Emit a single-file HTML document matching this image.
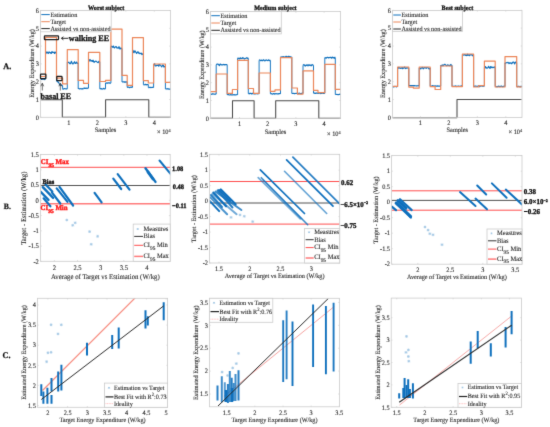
<!DOCTYPE html><html><head><meta charset="utf-8"><style>html,body{margin:0;padding:0;background:#fff;overflow:hidden}svg{display:block;will-change:transform}</style></head><body>
<svg width="550" height="427" viewBox="0 0 550 427" font-family="'Liberation Serif', serif" text-rendering="geometricPrecision">
<filter id="bl" x="0" y="0" width="550" height="427" filterUnits="userSpaceOnUse"><feConvolveMatrix color-interpolation-filters="sRGB" order="3" kernelMatrix="1 8 1 8 64 8 1 8 1" divisor="100" edgeMode="duplicate"/></filter><g filter="url(#bl)">
<rect width="550" height="427" fill="#fff"/>
<polyline points="40.5,99.8 62.3,99.8 62.3,117.3 105.6,117.3 105.6,99.8 148.8,99.8 148.8,117.3 170.5,117.3" fill="none" stroke="#484848" stroke-width="1.05" stroke-linejoin="round" />
<line x1="45.5" y1="79.3" x2="45.5" y2="52.5" stroke="#0f70bd" stroke-width="0.96" stroke-opacity="0.99"/>
<line x1="56.5" y1="52.5" x2="56.5" y2="81" stroke="#0f70bd" stroke-width="0.96" stroke-opacity="0.99"/>
<line x1="59" y1="82.5" x2="59" y2="84" stroke="#0f70bd" stroke-width="0.96" stroke-opacity="0.99"/>
<line x1="62.6" y1="86" x2="62.6" y2="88.8" stroke="#0f70bd" stroke-width="0.96" stroke-opacity="0.99"/>
<line x1="67.3" y1="88.8" x2="67.3" y2="62.2" stroke="#0f70bd" stroke-width="0.96" stroke-opacity="0.99"/>
<line x1="78.2" y1="63" x2="78.2" y2="88.8" stroke="#0f70bd" stroke-width="0.96" stroke-opacity="0.99"/>
<line x1="83.5" y1="88.8" x2="83.5" y2="88.2" stroke="#0f70bd" stroke-width="0.96" stroke-opacity="0.99"/>
<line x1="88.5" y1="88.2" x2="88.5" y2="60.5" stroke="#0f70bd" stroke-width="0.96" stroke-opacity="0.99"/>
<line x1="99.8" y1="62" x2="99.8" y2="88.8" stroke="#0f70bd" stroke-width="0.96" stroke-opacity="0.99"/>
<line x1="105.5" y1="88.8" x2="105.5" y2="83" stroke="#0f70bd" stroke-width="0.96" stroke-opacity="0.99"/>
<line x1="110.9" y1="83" x2="110.9" y2="46.5" stroke="#0f70bd" stroke-width="0.96" stroke-opacity="0.99"/>
<line x1="122" y1="48.6" x2="122" y2="82" stroke="#0f70bd" stroke-width="0.96" stroke-opacity="0.99"/>
<line x1="127.2" y1="82" x2="127.2" y2="87.3" stroke="#0f70bd" stroke-width="0.96" stroke-opacity="0.99"/>
<line x1="132.5" y1="87.3" x2="132.5" y2="51" stroke="#0f70bd" stroke-width="0.96" stroke-opacity="0.99"/>
<line x1="143.4" y1="54.5" x2="143.4" y2="84.5" stroke="#0f70bd" stroke-width="0.96" stroke-opacity="0.99"/>
<line x1="148.3" y1="84.5" x2="148.3" y2="87.5" stroke="#0f70bd" stroke-width="0.96" stroke-opacity="0.99"/>
<line x1="153.6" y1="87.5" x2="153.6" y2="64.6" stroke="#0f70bd" stroke-width="0.96" stroke-opacity="0.99"/>
<line x1="165.4" y1="66.2" x2="165.4" y2="88.9" stroke="#0f70bd" stroke-width="0.96" stroke-opacity="0.99"/>
<polyline points="40.5,79.3 41,79.31 41.5,79.45 42,79.21 42.5,79.2 43,79.25 43.5,79.14 44,79.22 44.5,79.56 45,79.11 45.5,79.3" fill="none" stroke="#0f70bd" stroke-width="1.2" stroke-linejoin="round" />
<polyline points="45.5,52.5 46,52.21 46.5,53 47,51.88 47.5,53.01 48,52.92 48.5,53.28 49,51.88 49.5,52.23 50,52.69 50.5,52.62 51,53.49 51.5,53.23 52,51.54 52.5,52.39 53,52.31 53.5,52.39 54,52.23 54.5,53.44 55,52.12 55.5,52.32 56,53 56.5,52.5" fill="none" stroke="#0f70bd" stroke-width="1.2" stroke-linejoin="round" />
<polyline points="56.5,81 57,81.25 57.5,81.71 58,81.91 58.5,82.5 59,82.5" fill="none" stroke="#0f70bd" stroke-width="1.2" stroke-linejoin="round" />
<polyline points="59,84 59.51,84.25 60.03,84.92 60.54,85.18 61.06,84.93 61.57,85.1 62.09,85.46 62.6,86" fill="none" stroke="#0f70bd" stroke-width="1.2" stroke-linejoin="round" />
<polyline points="62.6,88.8 63.12,89.19 63.64,88.83 64.17,88.76 64.69,88.55 65.21,88.76 65.73,88.86 66.26,88.87 66.78,88.86 67.3,88.8" fill="none" stroke="#0f70bd" stroke-width="1.2" stroke-linejoin="round" />
<polyline points="67.3,62.2 67.82,62.29 68.34,62.45 68.86,62.24 69.38,63.32 69.9,63.62 70.41,63.66 70.93,62.5 71.45,61.31 71.97,62.94 72.49,63.78 73.01,63.93 73.53,62.95 74.05,62.66 74.57,61.66 75.09,63.3 75.6,63.43 76.12,62.97 76.64,62.08 77.16,63.04 77.68,63.39 78.2,63" fill="none" stroke="#0f70bd" stroke-width="1.2" stroke-linejoin="round" />
<polyline points="78.2,88.8 78.73,88.45 79.26,88.92 79.79,88.88 80.32,88.77 80.85,88.7 81.38,88.79 81.91,88.85 82.44,88.6 82.97,89.01 83.5,88.8" fill="none" stroke="#0f70bd" stroke-width="1.2" stroke-linejoin="round" />
<polyline points="83.5,88.2 84,88.04 84.5,88.46 85,88.19 85.5,88.3 86,88.28 86.5,88.15 87,88.55 87.5,88.26 88,88.02 88.5,88.2" fill="none" stroke="#0f70bd" stroke-width="1.2" stroke-linejoin="round" />
<polyline points="88.5,60.5 89.01,61.24 89.53,59.73 90.04,59.61 90.55,60.17 91.07,61.19 91.58,60.85 92.1,60.52 92.61,61.48 93.12,60.19 93.64,61.72 94.15,62.29 94.66,61.68 95.18,61.53 95.69,61.1 96.2,61.22 96.72,61.64 97.23,62.22 97.75,62.48 98.26,62.63 98.77,61.37 99.29,61.31 99.8,62" fill="none" stroke="#0f70bd" stroke-width="1.2" stroke-linejoin="round" />
<polyline points="99.8,88.8 100.32,88.81 100.84,88.52 101.35,88.66 101.87,89.15 102.39,88.96 102.91,88.84 103.43,88.43 103.95,88.62 104.46,88.85 104.98,88.71 105.5,88.8" fill="none" stroke="#0f70bd" stroke-width="1.2" stroke-linejoin="round" />
<polyline points="105.5,83 106.04,82.95 106.58,83.12 107.12,82.94 107.66,83.15 108.2,82.91 108.74,82.93 109.28,82.86 109.82,83.2 110.36,83.27 110.9,83" fill="none" stroke="#0f70bd" stroke-width="1.2" stroke-linejoin="round" />
<polyline points="110.9,46.5 111.4,46.2 111.91,46.41 112.41,47.1 112.92,47.2 113.42,46.05 113.93,47.09 114.43,47.9 114.94,47.35 115.44,46.92 115.95,46.53 116.45,46.97 116.95,48.09 117.46,47.96 117.96,47.87 118.47,48.08 118.97,46.59 119.48,48.08 119.98,49.07 120.49,48.52 120.99,47.99 121.5,48.58 122,48.6" fill="none" stroke="#0f70bd" stroke-width="1.2" stroke-linejoin="round" />
<polyline points="122,82 122.52,81.95 123.04,81.76 123.56,81.81 124.08,82.05 124.6,81.91 125.12,82.06 125.64,81.95 126.16,82.04 126.68,81.83 127.2,82" fill="none" stroke="#0f70bd" stroke-width="1.2" stroke-linejoin="round" />
<polyline points="127.2,87.3 127.73,87.33 128.26,87.02 128.79,87.26 129.32,87.53 129.85,87.59 130.38,87.21 130.91,87.01 131.44,87.04 131.97,87.4 132.5,87.3" fill="none" stroke="#0f70bd" stroke-width="1.2" stroke-linejoin="round" />
<polyline points="132.5,51 133.02,50.47 133.54,52.34 134.06,52.66 134.58,51.13 135.1,50.93 135.61,52.06 136.13,52.47 136.65,53.43 137.17,52.66 137.69,51.85 138.21,51.88 138.73,53.16 139.25,52.98 139.77,53.64 140.29,53.65 140.8,53.21 141.32,53.09 141.84,54.55 142.36,53.93 142.88,54 143.4,54.5" fill="none" stroke="#0f70bd" stroke-width="1.2" stroke-linejoin="round" />
<polyline points="143.4,84.5 143.94,84.87 144.49,84.77 145.03,84.66 145.58,84.31 146.12,84.66 146.67,84.81 147.21,84.52 147.76,84.66 148.3,84.5" fill="none" stroke="#0f70bd" stroke-width="1.2" stroke-linejoin="round" />
<polyline points="148.3,87.5 148.83,87.66 149.36,87.44 149.89,87.38 150.42,87.43 150.95,87.57 151.48,87.47 152.01,87.24 152.54,87.39 153.07,87.31 153.6,87.5" fill="none" stroke="#0f70bd" stroke-width="1.2" stroke-linejoin="round" />
<polyline points="153.6,64.6 154.11,64.66 154.63,63.73 155.14,65.96 155.65,65.79 156.17,65.81 156.68,65.27 157.19,65.29 157.7,65.3 158.22,64.86 158.73,66.21 159.24,64.68 159.76,64.51 160.27,65.39 160.78,65.8 161.3,66.06 161.81,66.85 162.32,65.72 162.83,64.98 163.35,65.21 163.86,67 164.37,66.6 164.89,66.82 165.4,66.2" fill="none" stroke="#0f70bd" stroke-width="1.2" stroke-linejoin="round" />
<polyline points="165.4,88.9 165.91,88.87 166.42,88.91 166.93,89.01 167.44,88.99 167.95,88.58 168.46,88.97 168.97,89.2 169.48,89.21 169.99,89.11 170.5,88.9" fill="none" stroke="#0f70bd" stroke-width="1.2" stroke-linejoin="round" />
<polyline points="40.5,76.5 45.5,76.5 45.5,37.3 56.5,37.3 56.5,78.2 62.6,78.2 62.6,83.9 67.3,83.9 67.3,49.6 78.2,49.6 78.2,80.4 83.5,80.4 83.5,83.3 88.5,83.3 88.5,52.4 99.8,52.4 99.8,81.5 105.5,81.5 105.5,80.3 110.9,80.3 110.9,29.1 122,29.1 122,75.4 127.2,75.4 127.2,85.4 132.5,85.4 132.5,37.6 143.4,37.6 143.4,80.6 148.3,80.6 148.3,83 153.6,83 153.6,64 165.4,64 165.4,82.4 170.5,82.4" fill="none" stroke="#EC8659" stroke-width="1.2" stroke-linejoin="round" />
<rect x="40.5" y="10.5" width="130" height="106.8" fill="none" stroke="#cbcbcb" stroke-width="0.8"/>
<line x1="68.95" y1="117.3" x2="68.95" y2="116" stroke="#cbcbcb" stroke-width="0.6" />
<line x1="68.95" y1="10.5" x2="68.95" y2="11.8" stroke="#cbcbcb" stroke-width="0.6" />
<text transform="translate(68.95,124.77) scale(0.9434,1)" font-size="6.68" text-anchor="middle" font-weight="normal" fill="#262626" stroke="#262626" stroke-width="0.1">1</text>
<line x1="97.4" y1="117.3" x2="97.4" y2="116" stroke="#cbcbcb" stroke-width="0.6" />
<line x1="97.4" y1="10.5" x2="97.4" y2="11.8" stroke="#cbcbcb" stroke-width="0.6" />
<text transform="translate(97.4,124.77) scale(0.9434,1)" font-size="6.68" text-anchor="middle" font-weight="normal" fill="#262626" stroke="#262626" stroke-width="0.1">2</text>
<line x1="125.85" y1="117.3" x2="125.85" y2="116" stroke="#cbcbcb" stroke-width="0.6" />
<line x1="125.85" y1="10.5" x2="125.85" y2="11.8" stroke="#cbcbcb" stroke-width="0.6" />
<text transform="translate(125.85,124.77) scale(0.9434,1)" font-size="6.68" text-anchor="middle" font-weight="normal" fill="#262626" stroke="#262626" stroke-width="0.1">3</text>
<line x1="154.3" y1="117.3" x2="154.3" y2="116" stroke="#cbcbcb" stroke-width="0.6" />
<line x1="154.3" y1="10.5" x2="154.3" y2="11.8" stroke="#cbcbcb" stroke-width="0.6" />
<text transform="translate(154.3,124.77) scale(0.9434,1)" font-size="6.68" text-anchor="middle" font-weight="normal" fill="#262626" stroke="#262626" stroke-width="0.1">4</text>
<line x1="40.5" y1="117.3" x2="41.8" y2="117.3" stroke="#cbcbcb" stroke-width="0.6" />
<line x1="170.5" y1="117.3" x2="169.2" y2="117.3" stroke="#cbcbcb" stroke-width="0.6" />
<text transform="translate(38.9,119.57) scale(0.9434,1)" font-size="6.68" text-anchor="end" font-weight="normal" fill="#262626" stroke="#262626" stroke-width="0.1">0</text>
<line x1="40.5" y1="99.5" x2="41.8" y2="99.5" stroke="#cbcbcb" stroke-width="0.6" />
<line x1="170.5" y1="99.5" x2="169.2" y2="99.5" stroke="#cbcbcb" stroke-width="0.6" />
<text transform="translate(38.9,101.77) scale(0.9434,1)" font-size="6.68" text-anchor="end" font-weight="normal" fill="#262626" stroke="#262626" stroke-width="0.1">1</text>
<line x1="40.5" y1="81.7" x2="41.8" y2="81.7" stroke="#cbcbcb" stroke-width="0.6" />
<line x1="170.5" y1="81.7" x2="169.2" y2="81.7" stroke="#cbcbcb" stroke-width="0.6" />
<text transform="translate(38.9,83.97) scale(0.9434,1)" font-size="6.68" text-anchor="end" font-weight="normal" fill="#262626" stroke="#262626" stroke-width="0.1">2</text>
<line x1="40.5" y1="63.9" x2="41.8" y2="63.9" stroke="#cbcbcb" stroke-width="0.6" />
<line x1="170.5" y1="63.9" x2="169.2" y2="63.9" stroke="#cbcbcb" stroke-width="0.6" />
<text transform="translate(38.9,66.17) scale(0.9434,1)" font-size="6.68" text-anchor="end" font-weight="normal" fill="#262626" stroke="#262626" stroke-width="0.1">3</text>
<line x1="40.5" y1="46.1" x2="41.8" y2="46.1" stroke="#cbcbcb" stroke-width="0.6" />
<line x1="170.5" y1="46.1" x2="169.2" y2="46.1" stroke="#cbcbcb" stroke-width="0.6" />
<text transform="translate(38.9,48.37) scale(0.9434,1)" font-size="6.68" text-anchor="end" font-weight="normal" fill="#262626" stroke="#262626" stroke-width="0.1">4</text>
<line x1="40.5" y1="28.3" x2="41.8" y2="28.3" stroke="#cbcbcb" stroke-width="0.6" />
<line x1="170.5" y1="28.3" x2="169.2" y2="28.3" stroke="#cbcbcb" stroke-width="0.6" />
<text transform="translate(38.9,30.57) scale(0.9434,1)" font-size="6.68" text-anchor="end" font-weight="normal" fill="#262626" stroke="#262626" stroke-width="0.1">5</text>
<line x1="40.5" y1="10.5" x2="41.8" y2="10.5" stroke="#cbcbcb" stroke-width="0.6" />
<line x1="170.5" y1="10.5" x2="169.2" y2="10.5" stroke="#cbcbcb" stroke-width="0.6" />
<text transform="translate(38.9,12.77) scale(0.9434,1)" font-size="6.68" text-anchor="end" font-weight="normal" fill="#262626" stroke="#262626" stroke-width="0.1">6</text>
<text transform="translate(106.2,9.52) scale(0.9434,1)" font-size="6.52" text-anchor="middle" font-weight="bold" fill="#111" stroke="#111" stroke-width="0.3">Worst subject</text>
<text transform="translate(105.5,131.9) scale(0.9434,1)" font-size="6.68" text-anchor="middle" font-weight="normal" fill="#262626" stroke="#262626" stroke-width="0.1">Samples</text>
<text transform="translate(157.1,134.3) scale(0.9434,1)" font-size="6.68" text-anchor="start" font-weight="normal" fill="#262626" stroke="#262626" stroke-width="0.1">× 10<tspan font-size="4.5" dy="-2.6">4</tspan></text>
<text transform="translate(33.96,63.5) rotate(-90) scale(0.9434,1)" font-size="6.54" text-anchor="middle" fill="#262626" stroke="#262626" stroke-width="0.1">Energy Expenditure (W/kg)</text>
<rect x="40.5" y="10.5" width="70.7" height="21.3" fill="#fff" stroke="#cbcbcb" stroke-width="0.8"/>
<line x1="41.3" y1="14.6" x2="49.8" y2="14.6" stroke="#0f70bd" stroke-width="1.0" />
<text transform="translate(50.4,16.57) scale(0.9434,1)" font-size="6.57" text-anchor="start" font-weight="normal" fill="#262626" stroke="#262626" stroke-width="0.1">Estimation</text>
<line x1="41.3" y1="21.7" x2="49.8" y2="21.7" stroke="#EC8659" stroke-width="1.0" />
<text transform="translate(50.4,23.67) scale(0.9434,1)" font-size="6.57" text-anchor="start" font-weight="normal" fill="#262626" stroke="#262626" stroke-width="0.1">Target</text>
<line x1="41.3" y1="28.6" x2="49.8" y2="28.6" stroke="#262626" stroke-width="1.0" />
<text transform="translate(50.4,30.57) scale(0.9434,1)" font-size="6.57" text-anchor="start" font-weight="normal" fill="#262626" stroke="#262626" stroke-width="0.1">Assisted vs non-assisted</text>
<polyline points="210.5,118.3 232.5,118.3 232.5,100.8 254.1,100.8 254.1,118.3 275.7,118.3 275.7,100.8 318.8,100.8 318.8,118.3 340.5,118.3" fill="none" stroke="#484848" stroke-width="1.05" stroke-linejoin="round" />
<line x1="216.2" y1="94.1" x2="216.2" y2="64.8" stroke="#0f70bd" stroke-width="0.96" stroke-opacity="0.99"/>
<line x1="227.2" y1="64.8" x2="227.2" y2="94.8" stroke="#0f70bd" stroke-width="0.96" stroke-opacity="0.99"/>
<line x1="237.6" y1="94.8" x2="237.6" y2="58.2" stroke="#0f70bd" stroke-width="0.96" stroke-opacity="0.99"/>
<line x1="248.3" y1="58.2" x2="248.3" y2="93.6" stroke="#0f70bd" stroke-width="0.96" stroke-opacity="0.99"/>
<line x1="259.1" y1="93.6" x2="259.1" y2="60.4" stroke="#0f70bd" stroke-width="0.96" stroke-opacity="0.99"/>
<line x1="270.4" y1="60.4" x2="270.4" y2="93.8" stroke="#0f70bd" stroke-width="0.96" stroke-opacity="0.99"/>
<line x1="280.5" y1="93.8" x2="280.5" y2="56.9" stroke="#0f70bd" stroke-width="0.96" stroke-opacity="0.99"/>
<line x1="291.8" y1="56.9" x2="291.8" y2="93.4" stroke="#0f70bd" stroke-width="0.96" stroke-opacity="0.99"/>
<line x1="303" y1="93.4" x2="303" y2="65.3" stroke="#0f70bd" stroke-width="0.96" stroke-opacity="0.99"/>
<line x1="313.5" y1="65.3" x2="313.5" y2="93.2" stroke="#0f70bd" stroke-width="0.96" stroke-opacity="0.99"/>
<line x1="324.8" y1="93.2" x2="324.8" y2="57.6" stroke="#0f70bd" stroke-width="0.96" stroke-opacity="0.99"/>
<line x1="335.3" y1="57.6" x2="335.3" y2="94.5" stroke="#0f70bd" stroke-width="0.96" stroke-opacity="0.99"/>
<polyline points="210.5,94.1 211.02,94 211.54,94.29 212.05,94.25 212.57,93.73 213.09,93.88 213.61,94.04 214.13,94.27 214.65,94.15 215.16,94.01 215.68,94.08 216.2,94.1" fill="none" stroke="#0f70bd" stroke-width="1.2" stroke-linejoin="round" />
<polyline points="216.2,64.8 216.7,64.39 217.2,64.1 217.7,64.08 218.2,64.34 218.7,64.61 219.2,65.6 219.7,65.18 220.2,64.07 220.7,64.52 221.2,64.65 221.7,64.92 222.2,64.89 222.7,64.86 223.2,64.56 223.7,64.45 224.2,64.62 224.7,64.96 225.2,64.56 225.7,64.67 226.2,64.69 226.7,64.56 227.2,64.8" fill="none" stroke="#0f70bd" stroke-width="1.2" stroke-linejoin="round" />
<polyline points="227.2,94.8 227.72,94.44 228.24,94.54 228.76,94.8 229.28,95.01 229.8,95.02 230.32,94.66 230.84,94.79 231.36,94.8 231.88,94.87 232.4,94.89 232.92,94.83 233.44,94.78 233.96,94.62 234.48,94.89 235,94.92 235.52,94.81 236.04,94.8 236.56,94.75 237.08,94.47 237.6,94.8" fill="none" stroke="#0f70bd" stroke-width="1.2" stroke-linejoin="round" />
<polyline points="237.6,58.2 238.11,58.09 238.62,58.41 239.13,58.89 239.64,58.63 240.15,57.76 240.66,58.36 241.17,58.58 241.68,58.28 242.19,58.38 242.7,57.68 243.2,58.19 243.71,58.19 244.22,58.78 244.73,58.84 245.24,58.5 245.75,58.23 246.26,57.94 246.77,57.71 247.28,58.55 247.79,57.99 248.3,58.2" fill="none" stroke="#0f70bd" stroke-width="1.2" stroke-linejoin="round" />
<polyline points="248.3,93.6 248.81,93.58 249.33,93.8 249.84,93.28 250.36,93.25 250.87,93.36 251.39,93.9 251.9,93.59 252.41,93.38 252.93,93.64 253.44,93.28 253.96,93.78 254.47,93.83 254.99,93.89 255.5,93.79 256.01,93.49 256.53,93.64 257.04,93.43 257.56,93.89 258.07,93.69 258.59,93.63 259.1,93.6" fill="none" stroke="#0f70bd" stroke-width="1.2" stroke-linejoin="round" />
<polyline points="259.1,60.4 259.61,59.93 260.13,60.34 260.64,60.62 261.15,60.05 261.67,60.55 262.18,60.66 262.7,60.59 263.21,59.79 263.72,59.92 264.24,60.34 264.75,60.85 265.26,60.76 265.78,60.04 266.29,59.94 266.8,60.25 267.32,60.52 267.83,60.61 268.35,59.95 268.86,60.1 269.37,60.63 269.89,60.37 270.4,60.4" fill="none" stroke="#0f70bd" stroke-width="1.2" stroke-linejoin="round" />
<polyline points="270.4,93.8 270.9,93.77 271.41,93.61 271.91,94.02 272.42,94.07 272.92,93.89 273.43,93.67 273.94,93.66 274.44,93.89 274.94,94.14 275.45,93.74 275.95,93.55 276.46,93.77 276.96,93.91 277.47,93.88 277.98,93.93 278.48,93.98 278.99,93.55 279.49,93.53 280,93.6 280.5,93.8" fill="none" stroke="#0f70bd" stroke-width="1.2" stroke-linejoin="round" />
<polyline points="280.5,56.9 281.01,57.13 281.53,57.04 282.04,56.78 282.55,56.91 283.07,57.04 283.58,56.57 284.1,57.35 284.61,57.13 285.12,57.34 285.64,56.72 286.15,56.35 286.66,56.59 287.18,56.69 287.69,57.16 288.2,56.73 288.72,56.24 289.23,56.51 289.75,56.81 290.26,57.52 290.77,56.73 291.29,57.27 291.8,56.9" fill="none" stroke="#0f70bd" stroke-width="1.2" stroke-linejoin="round" />
<polyline points="291.8,93.4 292.31,93.52 292.82,93.43 293.33,93.24 293.84,93.45 294.35,93.6 294.85,93.58 295.36,93.49 295.87,93.45 296.38,93.42 296.89,93.27 297.4,93.6 297.91,93.78 298.42,93.44 298.93,93.16 299.44,93.12 299.95,93.47 300.45,93.61 300.96,93.77 301.47,93.58 301.98,93.14 302.49,93.12 303,93.4" fill="none" stroke="#0f70bd" stroke-width="1.2" stroke-linejoin="round" />
<polyline points="303,65.3 303.5,64.83 304,64.64 304.5,65.43 305,65.93 305.5,66.03 306,65.07 306.5,65.4 307,64.81 307.5,65.24 308,65.85 308.5,65.12 309,64.8 309.5,65.32 310,64.86 310.5,65.28 311,65.72 311.5,65.66 312,64.61 312.5,64.79 313,65.1 313.5,65.3" fill="none" stroke="#0f70bd" stroke-width="1.2" stroke-linejoin="round" />
<polyline points="313.5,93.2 314.01,93.09 314.53,93.11 315.04,93.4 315.55,93.51 316.07,93.07 316.58,93.06 317.1,92.95 317.61,93.19 318.12,93.44 318.64,93.05 319.15,93.27 319.66,93.25 320.18,92.98 320.69,93.55 321.2,93.28 321.72,93.33 322.23,93.18 322.75,92.98 323.26,93.32 323.77,93.43 324.29,93.46 324.8,93.2" fill="none" stroke="#0f70bd" stroke-width="1.2" stroke-linejoin="round" />
<polyline points="324.8,57.6 325.3,57.63 325.8,58.17 326.3,58.08 326.8,57.48 327.3,57.37 327.8,57.25 328.3,57.92 328.8,57.68 329.3,57.72 329.8,57.45 330.3,57.47 330.8,57.42 331.3,58.09 331.8,57.89 332.3,57.06 332.8,57.68 333.3,57.66 333.8,57.45 334.3,58.37 334.8,57.27 335.3,57.6" fill="none" stroke="#0f70bd" stroke-width="1.2" stroke-linejoin="round" />
<polyline points="335.3,94.5 335.82,94.49 336.34,94.52 336.86,94.39 337.38,94.48 337.9,94.68 338.42,94.63 338.94,94.44 339.46,94.22 339.98,94.15 340.5,94.5" fill="none" stroke="#0f70bd" stroke-width="1.2" stroke-linejoin="round" />
<polyline points="210.5,91.7 216.2,91.7 216.2,74 227.2,74 227.2,93.4 232.4,93.4 232.4,89.5 237.6,89.5 237.6,60.4 248.3,60.4 248.3,88.5 253.5,88.5 253.5,93.4 259.1,93.4 259.1,73 270.4,73 270.4,91.3 275,91.3 275,89.9 280.5,89.9 280.5,57.6 291.8,57.6 291.8,88 297.4,88 297.4,94.1 303,94.1 303,70.9 313.5,70.9 313.5,90.3 318,90.3 318,92.7 324.8,92.7 324.8,64.3 335.3,64.3 335.3,89.4 340.5,89.4" fill="none" stroke="#EC8659" stroke-width="1.2" stroke-linejoin="round" />
<rect x="210.5" y="11.5" width="130" height="106.8" fill="none" stroke="#cbcbcb" stroke-width="0.8"/>
<line x1="239.5" y1="118.3" x2="239.5" y2="117" stroke="#cbcbcb" stroke-width="0.6" />
<line x1="239.5" y1="11.5" x2="239.5" y2="12.8" stroke="#cbcbcb" stroke-width="0.6" />
<text transform="translate(239.5,126.07) scale(0.9434,1)" font-size="6.68" text-anchor="middle" font-weight="normal" fill="#262626" stroke="#262626" stroke-width="0.1">1</text>
<line x1="267.7" y1="118.3" x2="267.7" y2="117" stroke="#cbcbcb" stroke-width="0.6" />
<line x1="267.7" y1="11.5" x2="267.7" y2="12.8" stroke="#cbcbcb" stroke-width="0.6" />
<text transform="translate(267.7,126.07) scale(0.9434,1)" font-size="6.68" text-anchor="middle" font-weight="normal" fill="#262626" stroke="#262626" stroke-width="0.1">2</text>
<line x1="295.9" y1="118.3" x2="295.9" y2="117" stroke="#cbcbcb" stroke-width="0.6" />
<line x1="295.9" y1="11.5" x2="295.9" y2="12.8" stroke="#cbcbcb" stroke-width="0.6" />
<text transform="translate(295.9,126.07) scale(0.9434,1)" font-size="6.68" text-anchor="middle" font-weight="normal" fill="#262626" stroke="#262626" stroke-width="0.1">3</text>
<line x1="324.1" y1="118.3" x2="324.1" y2="117" stroke="#cbcbcb" stroke-width="0.6" />
<line x1="324.1" y1="11.5" x2="324.1" y2="12.8" stroke="#cbcbcb" stroke-width="0.6" />
<text transform="translate(324.1,126.07) scale(0.9434,1)" font-size="6.68" text-anchor="middle" font-weight="normal" fill="#262626" stroke="#262626" stroke-width="0.1">4</text>
<line x1="210.5" y1="118.3" x2="211.8" y2="118.3" stroke="#cbcbcb" stroke-width="0.6" />
<line x1="340.5" y1="118.3" x2="339.2" y2="118.3" stroke="#cbcbcb" stroke-width="0.6" />
<text transform="translate(208.9,120.57) scale(0.9434,1)" font-size="6.68" text-anchor="end" font-weight="normal" fill="#262626" stroke="#262626" stroke-width="0.1">0</text>
<line x1="210.5" y1="100.5" x2="211.8" y2="100.5" stroke="#cbcbcb" stroke-width="0.6" />
<line x1="340.5" y1="100.5" x2="339.2" y2="100.5" stroke="#cbcbcb" stroke-width="0.6" />
<text transform="translate(208.9,102.77) scale(0.9434,1)" font-size="6.68" text-anchor="end" font-weight="normal" fill="#262626" stroke="#262626" stroke-width="0.1">1</text>
<line x1="210.5" y1="82.7" x2="211.8" y2="82.7" stroke="#cbcbcb" stroke-width="0.6" />
<line x1="340.5" y1="82.7" x2="339.2" y2="82.7" stroke="#cbcbcb" stroke-width="0.6" />
<text transform="translate(208.9,84.97) scale(0.9434,1)" font-size="6.68" text-anchor="end" font-weight="normal" fill="#262626" stroke="#262626" stroke-width="0.1">2</text>
<line x1="210.5" y1="64.9" x2="211.8" y2="64.9" stroke="#cbcbcb" stroke-width="0.6" />
<line x1="340.5" y1="64.9" x2="339.2" y2="64.9" stroke="#cbcbcb" stroke-width="0.6" />
<text transform="translate(208.9,67.17) scale(0.9434,1)" font-size="6.68" text-anchor="end" font-weight="normal" fill="#262626" stroke="#262626" stroke-width="0.1">3</text>
<line x1="210.5" y1="47.1" x2="211.8" y2="47.1" stroke="#cbcbcb" stroke-width="0.6" />
<line x1="340.5" y1="47.1" x2="339.2" y2="47.1" stroke="#cbcbcb" stroke-width="0.6" />
<text transform="translate(208.9,49.37) scale(0.9434,1)" font-size="6.68" text-anchor="end" font-weight="normal" fill="#262626" stroke="#262626" stroke-width="0.1">4</text>
<line x1="210.5" y1="29.3" x2="211.8" y2="29.3" stroke="#cbcbcb" stroke-width="0.6" />
<line x1="340.5" y1="29.3" x2="339.2" y2="29.3" stroke="#cbcbcb" stroke-width="0.6" />
<text transform="translate(208.9,31.57) scale(0.9434,1)" font-size="6.68" text-anchor="end" font-weight="normal" fill="#262626" stroke="#262626" stroke-width="0.1">5</text>
<line x1="210.5" y1="11.5" x2="211.8" y2="11.5" stroke="#cbcbcb" stroke-width="0.6" />
<line x1="340.5" y1="11.5" x2="339.2" y2="11.5" stroke="#cbcbcb" stroke-width="0.6" />
<text transform="translate(208.9,13.77) scale(0.9434,1)" font-size="6.68" text-anchor="end" font-weight="normal" fill="#262626" stroke="#262626" stroke-width="0.1">6</text>
<text transform="translate(275.4,9.52) scale(0.9434,1)" font-size="6.52" text-anchor="middle" font-weight="bold" fill="#111" stroke="#111" stroke-width="0.3">Medium subject</text>
<text transform="translate(275.5,134) scale(0.9434,1)" font-size="6.68" text-anchor="middle" font-weight="normal" fill="#262626" stroke="#262626" stroke-width="0.1">Samples</text>
<text transform="translate(327.1,136.4) scale(0.9434,1)" font-size="6.68" text-anchor="start" font-weight="normal" fill="#262626" stroke="#262626" stroke-width="0.1">× 10<tspan font-size="4.5" dy="-2.6">4</tspan></text>
<text transform="translate(203.56,64.7) rotate(-90) scale(0.9434,1)" font-size="6.54" text-anchor="middle" fill="#262626" stroke="#262626" stroke-width="0.1">Energy Expenditure (W/kg)</text>
<rect x="210.5" y="11.5" width="70.8" height="22.4" fill="#fff" stroke="#cbcbcb" stroke-width="0.8"/>
<line x1="211.3" y1="15.7" x2="219.9" y2="15.7" stroke="#0f70bd" stroke-width="1.0" />
<text transform="translate(220.5,17.67) scale(0.9434,1)" font-size="6.57" text-anchor="start" font-weight="normal" fill="#262626" stroke="#262626" stroke-width="0.1">Estimation</text>
<line x1="211.3" y1="23" x2="219.9" y2="23" stroke="#EC8659" stroke-width="1.0" />
<text transform="translate(220.5,24.97) scale(0.9434,1)" font-size="6.57" text-anchor="start" font-weight="normal" fill="#262626" stroke="#262626" stroke-width="0.1">Target</text>
<line x1="211.3" y1="30.3" x2="219.9" y2="30.3" stroke="#262626" stroke-width="1.0" />
<text transform="translate(220.5,32.27) scale(0.9434,1)" font-size="6.57" text-anchor="start" font-weight="normal" fill="#262626" stroke="#262626" stroke-width="0.1">Assisted vs non-assisted</text>
<polyline points="392.5,117.6 457,117.6 457,99.5 522,99.5" fill="none" stroke="#484848" stroke-width="1.05" stroke-linejoin="round" />
<line x1="397.6" y1="86.6" x2="397.6" y2="68.1" stroke="#0f70bd" stroke-width="0.96" stroke-opacity="0.99"/>
<line x1="408.8" y1="68.1" x2="408.8" y2="85.7" stroke="#0f70bd" stroke-width="0.96" stroke-opacity="0.99"/>
<line x1="419.2" y1="85.7" x2="419.2" y2="68" stroke="#0f70bd" stroke-width="0.96" stroke-opacity="0.99"/>
<line x1="430.2" y1="68" x2="430.2" y2="86" stroke="#0f70bd" stroke-width="0.96" stroke-opacity="0.99"/>
<line x1="440.7" y1="86" x2="440.7" y2="65.3" stroke="#0f70bd" stroke-width="0.96" stroke-opacity="0.99"/>
<line x1="452" y1="65.3" x2="452" y2="86.3" stroke="#0f70bd" stroke-width="0.96" stroke-opacity="0.99"/>
<line x1="462.4" y1="86.3" x2="462.4" y2="55.2" stroke="#0f70bd" stroke-width="0.96" stroke-opacity="0.99"/>
<line x1="473.6" y1="55.2" x2="473.6" y2="86.2" stroke="#0f70bd" stroke-width="0.96" stroke-opacity="0.99"/>
<line x1="484.4" y1="86.2" x2="484.4" y2="67.4" stroke="#0f70bd" stroke-width="0.96" stroke-opacity="0.99"/>
<line x1="495.2" y1="67.4" x2="495.2" y2="86.4" stroke="#0f70bd" stroke-width="0.96" stroke-opacity="0.99"/>
<line x1="505" y1="86.4" x2="505" y2="62.8" stroke="#0f70bd" stroke-width="0.96" stroke-opacity="0.99"/>
<line x1="516.7" y1="62.8" x2="516.7" y2="86.6" stroke="#0f70bd" stroke-width="0.96" stroke-opacity="0.99"/>
<polyline points="392.5,86.6 393.01,86.85 393.52,86.85 394.03,86.6 394.54,86.57 395.05,86.42 395.56,86.53 396.07,86.7 396.58,86.87 397.09,86.3 397.6,86.6" fill="none" stroke="#0f70bd" stroke-width="1.2" stroke-linejoin="round" />
<polyline points="397.6,68.1 398.11,68.26 398.62,67.44 399.13,68.04 399.64,67.81 400.15,68.22 400.65,68.37 401.16,68.17 401.67,68.08 402.18,67.52 402.69,68.65 403.2,67.98 403.71,68.1 404.22,67.41 404.73,67.11 405.24,68.22 405.75,68.61 406.25,68.11 406.76,67.88 407.27,67.73 407.78,67.99 408.29,68.4 408.8,68.1" fill="none" stroke="#0f70bd" stroke-width="1.2" stroke-linejoin="round" />
<polyline points="408.8,85.7 409.32,85.67 409.84,85.65 410.36,85.59 410.88,85.81 411.4,85.63 411.92,85.63 412.44,85.58 412.96,85.5 413.48,85.68 414,85.99 414.52,85.5 415.04,85.73 415.56,85.75 416.08,85.91 416.6,85.78 417.12,85.86 417.64,85.72 418.16,85.62 418.68,85.82 419.2,85.7" fill="none" stroke="#0f70bd" stroke-width="1.2" stroke-linejoin="round" />
<polyline points="419.2,68 419.7,68.22 420.2,68.1 420.7,68.89 421.2,67.94 421.7,67.73 422.2,67.97 422.7,67.41 423.2,68.82 423.7,68.52 424.2,67.82 424.7,67.58 425.2,67.71 425.7,67.81 426.2,68.49 426.7,67.52 427.2,67.71 427.7,67.77 428.2,67.82 428.7,68.44 429.2,69.06 429.7,68.58 430.2,68" fill="none" stroke="#0f70bd" stroke-width="1.2" stroke-linejoin="round" />
<polyline points="430.2,86 430.7,85.98 431.2,86.21 431.7,85.96 432.2,85.63 432.7,85.89 433.2,85.99 433.7,85.94 434.2,86.04 434.7,86.08 435.2,85.78 435.7,86.19 436.2,86.24 436.7,85.94 437.2,86.14 437.7,85.9 438.2,86.1 438.7,86.16 439.2,86.27 439.7,86.01 440.2,86.07 440.7,86" fill="none" stroke="#0f70bd" stroke-width="1.2" stroke-linejoin="round" />
<polyline points="440.7,65.3 441.21,65.83 441.73,65.38 442.24,64.9 442.75,65.81 443.27,65.72 443.78,65.01 444.3,64.45 444.81,64.26 445.32,64.68 445.84,65.1 446.35,65.74 446.86,65.71 447.38,65.03 447.89,64.77 448.4,65.45 448.92,65.4 449.43,65.65 449.95,65.65 450.46,64.76 450.97,64.5 451.49,65.94 452,65.3" fill="none" stroke="#0f70bd" stroke-width="1.2" stroke-linejoin="round" />
<polyline points="452,86.3 452.52,86.26 453.04,86.21 453.56,86.36 454.08,86.46 454.6,86.35 455.12,86.02 455.64,85.93 456.16,86.18 456.68,86.59 457.2,86.24 457.72,86.23 458.24,86 458.76,86.06 459.28,86.21 459.8,86.41 460.32,86.21 460.84,85.98 461.36,85.95 461.88,86.09 462.4,86.3" fill="none" stroke="#0f70bd" stroke-width="1.2" stroke-linejoin="round" />
<polyline points="462.4,55.2 462.91,55.38 463.42,55.03 463.93,54.75 464.44,54.88 464.95,54.62 465.45,55.33 465.96,54.88 466.47,55.5 466.98,55.14 467.49,54.18 468,55.44 468.51,54.79 469.02,55.03 469.53,55.54 470.04,54.67 470.55,54.95 471.05,54.66 471.56,54.8 472.07,55.01 472.58,55.79 473.09,54.69 473.6,55.2" fill="none" stroke="#0f70bd" stroke-width="1.2" stroke-linejoin="round" />
<polyline points="473.6,86.2 474.11,86.47 474.63,86.17 475.14,86.27 475.66,85.98 476.17,86.12 476.69,86.24 477.2,86.45 477.71,86.2 478.23,85.97 478.74,85.92 479.26,86.37 479.77,86.59 480.29,86.3 480.8,85.85 481.31,85.82 481.83,85.97 482.34,86.16 482.86,86.12 483.37,85.99 483.89,86.14 484.4,86.2" fill="none" stroke="#0f70bd" stroke-width="1.2" stroke-linejoin="round" />
<polyline points="484.4,67.4 484.91,67.67 485.43,66.54 485.94,67.95 486.46,67.71 486.97,68.24 487.49,68.03 488,67.64 488.51,66.36 489.03,67.16 489.54,67.96 490.06,68.37 490.57,66.72 491.09,66.67 491.6,67.59 492.11,67.03 492.63,67.69 493.14,67.41 493.66,67.42 494.17,67.55 494.69,66.77 495.2,67.4" fill="none" stroke="#0f70bd" stroke-width="1.2" stroke-linejoin="round" />
<polyline points="495.2,86.4 495.72,86.41 496.23,86.57 496.75,86.72 497.26,86.51 497.78,86.53 498.29,86.18 498.81,86.29 499.33,86.36 499.84,86.69 500.36,86.43 500.87,86.17 501.39,86.09 501.91,86.49 502.42,86.58 502.94,86.64 503.45,86.34 503.97,86.25 504.48,86.11 505,86.4" fill="none" stroke="#0f70bd" stroke-width="1.2" stroke-linejoin="round" />
<polyline points="505,62.8 505.51,63.46 506.02,62.53 506.53,62.75 507.03,62.76 507.54,62.69 508.05,62.31 508.56,62.86 509.07,63.6 509.58,62.86 510.09,62.88 510.6,63.06 511.1,62.94 511.61,63.81 512.12,63.32 512.63,62.3 513.14,62.17 513.65,62.07 514.16,62.98 514.67,63.86 515.17,62.31 515.68,62.53 516.19,61.86 516.7,62.8" fill="none" stroke="#0f70bd" stroke-width="1.2" stroke-linejoin="round" />
<polyline points="516.7,86.6 517.23,86.47 517.76,86.58 518.29,86.32 518.82,86.33 519.35,86.54 519.88,86.82 520.41,86.67 520.94,86.23 521.47,86.33 522,86.6" fill="none" stroke="#0f70bd" stroke-width="1.2" stroke-linejoin="round" />
<polyline points="392.5,86.4 397.6,86.4 397.6,67 408.8,67 408.8,87.1 413.3,87.1 413.3,88.1 419.2,88.1 419.2,67 430.2,67 430.2,86.7 435.1,86.7 435.1,89.5 440.7,89.5 440.7,66 452,66 452,86.6 462.4,86.6 462.4,54 473.6,54 473.6,87 478.8,87 478.8,85.6 484.4,85.6 484.4,61.1 495.2,61.1 495.2,87 505,87 505,56.6 516.7,56.6 516.7,86.8 522,86.8" fill="none" stroke="#EC8659" stroke-width="1.2" stroke-linejoin="round" />
<rect x="392.5" y="10.4" width="129.5" height="107" fill="none" stroke="#cbcbcb" stroke-width="0.8"/>
<line x1="420.45" y1="117.4" x2="420.45" y2="116.1" stroke="#cbcbcb" stroke-width="0.6" />
<line x1="420.45" y1="10.4" x2="420.45" y2="11.7" stroke="#cbcbcb" stroke-width="0.6" />
<text transform="translate(420.45,124.97) scale(0.9434,1)" font-size="6.68" text-anchor="middle" font-weight="normal" fill="#262626" stroke="#262626" stroke-width="0.1">1</text>
<line x1="448.9" y1="117.4" x2="448.9" y2="116.1" stroke="#cbcbcb" stroke-width="0.6" />
<line x1="448.9" y1="10.4" x2="448.9" y2="11.7" stroke="#cbcbcb" stroke-width="0.6" />
<text transform="translate(448.9,124.97) scale(0.9434,1)" font-size="6.68" text-anchor="middle" font-weight="normal" fill="#262626" stroke="#262626" stroke-width="0.1">2</text>
<line x1="477.35" y1="117.4" x2="477.35" y2="116.1" stroke="#cbcbcb" stroke-width="0.6" />
<line x1="477.35" y1="10.4" x2="477.35" y2="11.7" stroke="#cbcbcb" stroke-width="0.6" />
<text transform="translate(477.35,124.97) scale(0.9434,1)" font-size="6.68" text-anchor="middle" font-weight="normal" fill="#262626" stroke="#262626" stroke-width="0.1">3</text>
<line x1="505.8" y1="117.4" x2="505.8" y2="116.1" stroke="#cbcbcb" stroke-width="0.6" />
<line x1="505.8" y1="10.4" x2="505.8" y2="11.7" stroke="#cbcbcb" stroke-width="0.6" />
<text transform="translate(505.8,124.97) scale(0.9434,1)" font-size="6.68" text-anchor="middle" font-weight="normal" fill="#262626" stroke="#262626" stroke-width="0.1">4</text>
<line x1="392.5" y1="117.4" x2="393.8" y2="117.4" stroke="#cbcbcb" stroke-width="0.6" />
<line x1="522" y1="117.4" x2="520.7" y2="117.4" stroke="#cbcbcb" stroke-width="0.6" />
<text transform="translate(390.9,119.67) scale(0.9434,1)" font-size="6.68" text-anchor="end" font-weight="normal" fill="#262626" stroke="#262626" stroke-width="0.1">0</text>
<line x1="392.5" y1="99.55" x2="393.8" y2="99.55" stroke="#cbcbcb" stroke-width="0.6" />
<line x1="522" y1="99.55" x2="520.7" y2="99.55" stroke="#cbcbcb" stroke-width="0.6" />
<text transform="translate(390.9,101.82) scale(0.9434,1)" font-size="6.68" text-anchor="end" font-weight="normal" fill="#262626" stroke="#262626" stroke-width="0.1">1</text>
<line x1="392.5" y1="81.7" x2="393.8" y2="81.7" stroke="#cbcbcb" stroke-width="0.6" />
<line x1="522" y1="81.7" x2="520.7" y2="81.7" stroke="#cbcbcb" stroke-width="0.6" />
<text transform="translate(390.9,83.97) scale(0.9434,1)" font-size="6.68" text-anchor="end" font-weight="normal" fill="#262626" stroke="#262626" stroke-width="0.1">2</text>
<line x1="392.5" y1="63.85" x2="393.8" y2="63.85" stroke="#cbcbcb" stroke-width="0.6" />
<line x1="522" y1="63.85" x2="520.7" y2="63.85" stroke="#cbcbcb" stroke-width="0.6" />
<text transform="translate(390.9,66.12) scale(0.9434,1)" font-size="6.68" text-anchor="end" font-weight="normal" fill="#262626" stroke="#262626" stroke-width="0.1">3</text>
<line x1="392.5" y1="46" x2="393.8" y2="46" stroke="#cbcbcb" stroke-width="0.6" />
<line x1="522" y1="46" x2="520.7" y2="46" stroke="#cbcbcb" stroke-width="0.6" />
<text transform="translate(390.9,48.27) scale(0.9434,1)" font-size="6.68" text-anchor="end" font-weight="normal" fill="#262626" stroke="#262626" stroke-width="0.1">4</text>
<line x1="392.5" y1="28.15" x2="393.8" y2="28.15" stroke="#cbcbcb" stroke-width="0.6" />
<line x1="522" y1="28.15" x2="520.7" y2="28.15" stroke="#cbcbcb" stroke-width="0.6" />
<text transform="translate(390.9,30.42) scale(0.9434,1)" font-size="6.68" text-anchor="end" font-weight="normal" fill="#262626" stroke="#262626" stroke-width="0.1">5</text>
<line x1="392.5" y1="10.3" x2="393.8" y2="10.3" stroke="#cbcbcb" stroke-width="0.6" />
<line x1="522" y1="10.3" x2="520.7" y2="10.3" stroke="#cbcbcb" stroke-width="0.6" />
<text transform="translate(390.9,12.57) scale(0.9434,1)" font-size="6.68" text-anchor="end" font-weight="normal" fill="#262626" stroke="#262626" stroke-width="0.1">6</text>
<text transform="translate(457.4,9.52) scale(0.9434,1)" font-size="6.52" text-anchor="middle" font-weight="bold" fill="#111" stroke="#111" stroke-width="0.3">Best subject</text>
<text transform="translate(457.25,131.8) scale(0.9434,1)" font-size="6.68" text-anchor="middle" font-weight="normal" fill="#262626" stroke="#262626" stroke-width="0.1">Samples</text>
<text transform="translate(508.6,134.2) scale(0.9434,1)" font-size="6.68" text-anchor="start" font-weight="normal" fill="#262626" stroke="#262626" stroke-width="0.1">× 10<tspan font-size="4.5" dy="-2.6">4</tspan></text>
<text transform="translate(384.86,63.6) rotate(-90) scale(0.9434,1)" font-size="6.54" text-anchor="middle" fill="#262626" stroke="#262626" stroke-width="0.1">Energy Expenditure (W/kg)</text>
<rect x="392.5" y="10.4" width="69.9" height="21.1" fill="#fff" stroke="#cbcbcb" stroke-width="0.8"/>
<line x1="393.3" y1="15" x2="400.9" y2="15" stroke="#0f70bd" stroke-width="1.0" />
<text transform="translate(401.5,16.97) scale(0.9434,1)" font-size="6.57" text-anchor="start" font-weight="normal" fill="#262626" stroke="#262626" stroke-width="0.1">Estimation</text>
<line x1="393.3" y1="22" x2="400.9" y2="22" stroke="#EC8659" stroke-width="1.0" />
<text transform="translate(401.5,23.97) scale(0.9434,1)" font-size="6.57" text-anchor="start" font-weight="normal" fill="#262626" stroke="#262626" stroke-width="0.1">Target</text>
<line x1="393.3" y1="29" x2="400.9" y2="29" stroke="#262626" stroke-width="1.0" />
<text transform="translate(401.5,30.97) scale(0.9434,1)" font-size="6.57" text-anchor="start" font-weight="normal" fill="#262626" stroke="#262626" stroke-width="0.1">Assisted vs non-assisted</text>
<rect x="44.4" y="35.8" width="14.1" height="3.7" rx="0.6" fill="none" stroke="#1a1a1a" stroke-width="1.25"/>
<rect x="40.5" y="74.2" width="5.4" height="4.4" rx="0.6" fill="none" stroke="#1a1a1a" stroke-width="1.25"/>
<rect x="56.8" y="76.3" width="5.2" height="4.2" rx="0.6" fill="none" stroke="#1a1a1a" stroke-width="1.25"/>
<text transform="translate(68.8,41.12) scale(0.9434,1)" font-size="8.59" text-anchor="start" font-weight="bold" fill="#111" stroke="#111" stroke-width="0.3">walking EE</text>
<path d="M61.6,38.3H68.4M63.4,36.8L61.4,38.3L63.4,39.8" fill="none" stroke="#111" stroke-width="0.9"/>
<text transform="translate(55.8,98.88) scale(0.9434,1)" font-size="8.48" text-anchor="middle" font-weight="bold" fill="#111" stroke="#111" stroke-width="0.3">basal EE</text>
<line x1="42.3" y1="84" x2="42.3" y2="90.5" stroke="#333" stroke-width="0.7" />
<path d="M40.9,86.3 L42.3,83 L43.7,86.3" fill="none" stroke="#333" stroke-width="0.7"/>
<line x1="60.3" y1="84" x2="60.3" y2="90.5" stroke="#333" stroke-width="0.7" />
<path d="M58.9,86.3 L60.3,83 L61.7,86.3" fill="none" stroke="#333" stroke-width="0.7"/>
<text transform="translate(7.3,69.36) scale(0.9434,1)" font-size="8.69" text-anchor="middle" font-weight="bold" fill="#111" stroke="#111" stroke-width="0.25">A.</text>
<text transform="translate(7.3,208.88) scale(0.9434,1)" font-size="8.16" text-anchor="middle" font-weight="bold" fill="#111" stroke="#111" stroke-width="0.25">B.</text>
<text transform="translate(6.5,358.46) scale(0.9434,1)" font-size="8.69" text-anchor="middle" font-weight="bold" fill="#111" stroke="#111" stroke-width="0.25">C.</text>
<clipPath id="cbl"><rect x="40.5" y="154.5" width="129.7" height="106.8"/></clipPath>
<g clip-path="url(#cbl)">
<line x1="40.5" y1="167.3" x2="170.2" y2="167.3" stroke="#ff4d4d" stroke-width="1.0" />
<line x1="40.5" y1="203.8" x2="170.2" y2="203.8" stroke="#ff7a7a" stroke-width="1.5" />
<line x1="40.5" y1="185.5" x2="170.2" y2="185.5" stroke="#505050" stroke-width="1.0" />
<line x1="45.6" y1="184.4" x2="52.3" y2="191.5" stroke="#0f70bd" stroke-width="2.2" stroke-linecap="round" stroke-opacity="1.0"/>
<line x1="42.8" y1="187.2" x2="53.1" y2="197.9" stroke="#0f70bd" stroke-width="2.4" stroke-linecap="round" stroke-opacity="1.0"/>
<line x1="40.4" y1="191.5" x2="48.4" y2="199.9" stroke="#0f70bd" stroke-width="2.4" stroke-linecap="round" stroke-opacity="1.0"/>
<line x1="43.6" y1="198.3" x2="50.4" y2="206.3" stroke="#0f70bd" stroke-width="2.2" stroke-linecap="round" stroke-opacity="1.0"/>
<line x1="51.9" y1="192.3" x2="60.3" y2="203.5" stroke="#0f70bd" stroke-width="2.2" stroke-linecap="round" stroke-opacity="1.0"/>
<line x1="56.7" y1="188.4" x2="67.5" y2="201.9" stroke="#0f70bd" stroke-width="2.2" stroke-linecap="round" stroke-opacity="1.0"/>
<line x1="59.5" y1="186.8" x2="73.1" y2="205.5" stroke="#0f70bd" stroke-width="2.2" stroke-linecap="round" stroke-opacity="1.0"/>
<line x1="94.6" y1="192.8" x2="101.6" y2="202.4" stroke="#0f70bd" stroke-width="2.2" stroke-linecap="round" stroke-opacity="1.0"/>
<line x1="113.3" y1="178.6" x2="121.2" y2="189" stroke="#0f70bd" stroke-width="2.2" stroke-linecap="round" stroke-opacity="1.0"/>
<line x1="117.7" y1="174.2" x2="129.5" y2="189.6" stroke="#0f70bd" stroke-width="2.2" stroke-linecap="round" stroke-opacity="1.0"/>
<line x1="145.5" y1="168.3" x2="155.5" y2="181.9" stroke="#0f70bd" stroke-width="2.4" stroke-linecap="round" stroke-opacity="1.0"/>
<line x1="148" y1="172" x2="153" y2="179" stroke="#0f70bd" stroke-width="3" stroke-linecap="round" stroke-opacity="1.0"/>
<line x1="159.6" y1="160.6" x2="172" y2="175.6" stroke="#0f70bd" stroke-width="2.2" stroke-linecap="round" stroke-opacity="1.0"/>
<path d="M65.4,220H68.2M66.8,218.6V221.4M65.82,219.02L67.78,220.98M65.82,220.98L67.78,219.02" stroke="#a3c8e4" stroke-width="0.8" fill="none"/>
<path d="M73.8,222.8H76.6M75.2,221.4V224.2M74.22,221.82L76.18,223.78M74.22,223.78L76.18,221.82" stroke="#a3c8e4" stroke-width="0.8" fill="none"/>
<path d="M71.3,225.3H74.1M72.7,223.9V226.7M71.72,224.32L73.68,226.28M71.72,226.28L73.68,224.32" stroke="#a3c8e4" stroke-width="0.8" fill="none"/>
<path d="M88.2,231.6H91M89.6,230.2V233M88.62,230.62L90.58,232.58M88.62,232.58L90.58,230.62" stroke="#a3c8e4" stroke-width="0.8" fill="none"/>
<path d="M96.2,236.3H99M97.6,234.9V237.7M96.62,235.32L98.58,237.28M96.62,237.28L98.58,235.32" stroke="#a3c8e4" stroke-width="0.8" fill="none"/>
<path d="M89.8,244.3H92.6M91.2,242.9V245.7M90.22,243.32L92.18,245.28M90.22,245.28L92.18,243.32" stroke="#a3c8e4" stroke-width="0.8" fill="none"/>
</g>
<rect x="40.5" y="154.5" width="129.7" height="106.8" fill="none" stroke="#cbcbcb" stroke-width="0.8"/>
<line x1="54.39" y1="261.3" x2="54.39" y2="260" stroke="#cbcbcb" stroke-width="0.6" />
<line x1="54.39" y1="154.5" x2="54.39" y2="155.8" stroke="#cbcbcb" stroke-width="0.6" />
<text transform="translate(54.39,269.88) scale(0.9434,1)" font-size="7" text-anchor="middle" font-weight="normal" fill="#262626" stroke="#262626" stroke-width="0.1">2</text>
<line x1="77.54" y1="261.3" x2="77.54" y2="260" stroke="#cbcbcb" stroke-width="0.6" />
<line x1="77.54" y1="154.5" x2="77.54" y2="155.8" stroke="#cbcbcb" stroke-width="0.6" />
<text transform="translate(77.54,269.88) scale(0.9434,1)" font-size="7" text-anchor="middle" font-weight="normal" fill="#262626" stroke="#262626" stroke-width="0.1">2.5</text>
<line x1="100.69" y1="261.3" x2="100.69" y2="260" stroke="#cbcbcb" stroke-width="0.6" />
<line x1="100.69" y1="154.5" x2="100.69" y2="155.8" stroke="#cbcbcb" stroke-width="0.6" />
<text transform="translate(100.69,269.88) scale(0.9434,1)" font-size="7" text-anchor="middle" font-weight="normal" fill="#262626" stroke="#262626" stroke-width="0.1">3</text>
<line x1="123.84" y1="261.3" x2="123.84" y2="260" stroke="#cbcbcb" stroke-width="0.6" />
<line x1="123.84" y1="154.5" x2="123.84" y2="155.8" stroke="#cbcbcb" stroke-width="0.6" />
<text transform="translate(123.84,269.88) scale(0.9434,1)" font-size="7" text-anchor="middle" font-weight="normal" fill="#262626" stroke="#262626" stroke-width="0.1">3.5</text>
<line x1="146.99" y1="261.3" x2="146.99" y2="260" stroke="#cbcbcb" stroke-width="0.6" />
<line x1="146.99" y1="154.5" x2="146.99" y2="155.8" stroke="#cbcbcb" stroke-width="0.6" />
<text transform="translate(146.99,269.88) scale(0.9434,1)" font-size="7" text-anchor="middle" font-weight="normal" fill="#262626" stroke="#262626" stroke-width="0.1">4</text>
<line x1="40.5" y1="154.6" x2="41.8" y2="154.6" stroke="#cbcbcb" stroke-width="0.6" />
<line x1="170.2" y1="154.6" x2="168.9" y2="154.6" stroke="#cbcbcb" stroke-width="0.6" />
<text transform="translate(38.9,156.98) scale(0.9434,1)" font-size="7" text-anchor="end" font-weight="normal" fill="#262626" stroke="#262626" stroke-width="0.1">1.5</text>
<line x1="40.5" y1="169.85" x2="41.8" y2="169.85" stroke="#cbcbcb" stroke-width="0.6" />
<line x1="170.2" y1="169.85" x2="168.9" y2="169.85" stroke="#cbcbcb" stroke-width="0.6" />
<text transform="translate(38.9,172.23) scale(0.9434,1)" font-size="7" text-anchor="end" font-weight="normal" fill="#262626" stroke="#262626" stroke-width="0.1">1</text>
<line x1="40.5" y1="185.1" x2="41.8" y2="185.1" stroke="#cbcbcb" stroke-width="0.6" />
<line x1="170.2" y1="185.1" x2="168.9" y2="185.1" stroke="#cbcbcb" stroke-width="0.6" />
<text transform="translate(38.9,187.48) scale(0.9434,1)" font-size="7" text-anchor="end" font-weight="normal" fill="#262626" stroke="#262626" stroke-width="0.1">0.5</text>
<line x1="40.5" y1="200.35" x2="41.8" y2="200.35" stroke="#cbcbcb" stroke-width="0.6" />
<line x1="170.2" y1="200.35" x2="168.9" y2="200.35" stroke="#cbcbcb" stroke-width="0.6" />
<text transform="translate(38.9,202.73) scale(0.9434,1)" font-size="7" text-anchor="end" font-weight="normal" fill="#262626" stroke="#262626" stroke-width="0.1">0</text>
<line x1="40.5" y1="215.6" x2="41.8" y2="215.6" stroke="#cbcbcb" stroke-width="0.6" />
<line x1="170.2" y1="215.6" x2="168.9" y2="215.6" stroke="#cbcbcb" stroke-width="0.6" />
<text transform="translate(38.9,217.98) scale(0.9434,1)" font-size="7" text-anchor="end" font-weight="normal" fill="#262626" stroke="#262626" stroke-width="0.1">-0.5</text>
<line x1="40.5" y1="230.85" x2="41.8" y2="230.85" stroke="#cbcbcb" stroke-width="0.6" />
<line x1="170.2" y1="230.85" x2="168.9" y2="230.85" stroke="#cbcbcb" stroke-width="0.6" />
<text transform="translate(38.9,233.23) scale(0.9434,1)" font-size="7" text-anchor="end" font-weight="normal" fill="#262626" stroke="#262626" stroke-width="0.1">-1</text>
<line x1="40.5" y1="246.1" x2="41.8" y2="246.1" stroke="#cbcbcb" stroke-width="0.6" />
<line x1="170.2" y1="246.1" x2="168.9" y2="246.1" stroke="#cbcbcb" stroke-width="0.6" />
<text transform="translate(38.9,248.48) scale(0.9434,1)" font-size="7" text-anchor="end" font-weight="normal" fill="#262626" stroke="#262626" stroke-width="0.1">-1.5</text>
<line x1="40.5" y1="261.35" x2="41.8" y2="261.35" stroke="#cbcbcb" stroke-width="0.6" />
<line x1="170.2" y1="261.35" x2="168.9" y2="261.35" stroke="#cbcbcb" stroke-width="0.6" />
<text transform="translate(38.9,263.73) scale(0.9434,1)" font-size="7" text-anchor="end" font-weight="normal" fill="#262626" stroke="#262626" stroke-width="0.1">-2</text>
<text transform="translate(105.35,278.86) scale(0.9434,1)" font-size="7.21" text-anchor="middle" font-weight="normal" fill="#262626" stroke="#262626" stroke-width="0.1">Average of Target vs Estimation (W/kg)</text>
<text transform="translate(25.75,208.2) rotate(-90) scale(0.9434,1)" font-size="7.18" text-anchor="middle" fill="#262626" stroke="#262626" stroke-width="0.1">Target - Estimation (W/kg)</text>
<rect x="133.2" y="224.1" width="37" height="37.2" fill="#fff" stroke="#cbcbcb" stroke-width="0.8"/>
<path d="M136.8,229H138.6M137.7,228.1V229.9M137.07,228.37L138.33,229.63M137.07,229.63L138.33,228.37" stroke="#a3c8e4" stroke-width="0.8" fill="none"/>
<line x1="134.2" y1="236.4" x2="143" y2="236.4" stroke="#333" stroke-width="1.0" />
<line x1="134.2" y1="245.3" x2="143" y2="245.3" stroke="#ff4d4d" stroke-width="1.0" />
<line x1="134.2" y1="256.4" x2="143" y2="256.4" stroke="#ff7a7a" stroke-width="1.5" />
<text transform="translate(143.5,231.07) scale(0.9434,1)" font-size="6.89" text-anchor="start" font-weight="normal" fill="#262626" stroke="#262626" stroke-width="0.1">Measures</text>
<text transform="translate(143.5,238.47) scale(0.9434,1)" font-size="6.89" text-anchor="start" font-weight="normal" fill="#262626" stroke="#262626" stroke-width="0.1">Bias</text>
<text transform="translate(143.5,246.94) scale(0.9434,1)" font-size="6.89" text-anchor="start" font-weight="normal" fill="#262626" stroke="#262626" stroke-width="0.1">CI<tspan font-size="5.65" dy="2.89">95</tspan><tspan dy="-2.89"> Min</tspan></text>
<text transform="translate(143.5,257.84) scale(0.9434,1)" font-size="6.89" text-anchor="start" font-weight="normal" fill="#262626" stroke="#262626" stroke-width="0.1">CI<tspan font-size="5.65" dy="2.89">95</tspan><tspan dy="-2.89"> Max</tspan></text>
<text transform="translate(172.1,170.61) scale(0.9434,1)" font-size="6.78" text-anchor="start" font-weight="bold" fill="#111" stroke="#111" stroke-width="0.35">1.08</text>
<text transform="translate(172.8,189.11) scale(0.9434,1)" font-size="6.78" text-anchor="start" font-weight="bold" fill="#111" stroke="#111" stroke-width="0.35">0.48</text>
<text transform="translate(172.1,208.01) scale(0.9434,1)" font-size="6.78" text-anchor="start" font-weight="bold" fill="#111" stroke="#111" stroke-width="0.35">−0.11</text>
<text transform="translate(40.8,164.07) scale(0.9434,1)" font-size="7.26" text-anchor="start" font-weight="bold" fill="#ff1a1a" stroke="#ff1a1a" stroke-width="0.4">CI<tspan font-size="5.81" dy="3.05">95</tspan><tspan dy="-3.05"> Max</tspan></text>
<text transform="translate(42.5,183.61) scale(0.9434,1)" font-size="6.78" text-anchor="start" font-weight="bold" fill="#111" stroke="#111" stroke-width="0.4">Bias</text>
<text transform="translate(40.6,210.07) scale(0.9434,1)" font-size="7.26" text-anchor="start" font-weight="bold" fill="#ff1a1a" stroke="#ff1a1a" stroke-width="0.4">CI<tspan font-size="5.81" dy="3.05">95</tspan><tspan dy="-3.05"> Min</tspan></text>
<clipPath id="cbm"><rect x="209.5" y="154.3" width="130.2" height="108.7"/></clipPath>
<g clip-path="url(#cbm)">
<line x1="209.5" y1="181.5" x2="339.7" y2="181.5" stroke="#ff4d4d" stroke-width="1.0" />
<line x1="209.5" y1="224.1" x2="339.7" y2="224.1" stroke="#ff4d4d" stroke-width="1.0" />
<line x1="209.5" y1="203" x2="339.7" y2="203" stroke="#505050" stroke-width="1.0" />
<line x1="209.9" y1="201.1" x2="219.2" y2="211.1" stroke="#0f70bd" stroke-width="2.0" stroke-linecap="round" stroke-opacity="1.0"/>
<line x1="210.3" y1="197.4" x2="227.1" y2="214.2" stroke="#0f70bd" stroke-width="2.0" stroke-linecap="round" stroke-opacity="0.75"/>
<line x1="212.4" y1="193.7" x2="236.6" y2="214.2" stroke="#0f70bd" stroke-width="2.0" stroke-linecap="round" stroke-opacity="0.6"/>
<line x1="215.5" y1="191.6" x2="241.4" y2="210" stroke="#0f70bd" stroke-width="2.0" stroke-linecap="round" stroke-opacity="0.8"/>
<line x1="220.8" y1="189.5" x2="235.6" y2="204.2" stroke="#0f70bd" stroke-width="2.2" stroke-linecap="round" stroke-opacity="1.0"/>
<line x1="217.6" y1="190.5" x2="232.4" y2="207.4" stroke="#0f70bd" stroke-width="2.2" stroke-linecap="round" stroke-opacity="0.9"/>
<line x1="213.4" y1="192.6" x2="226.1" y2="206.3" stroke="#0f70bd" stroke-width="2.2" stroke-linecap="round" stroke-opacity="1.0"/>
<line x1="211" y1="195" x2="222" y2="207" stroke="#0f70bd" stroke-width="2.0" stroke-linecap="round" stroke-opacity="0.9"/>
<line x1="219" y1="190" x2="230" y2="201" stroke="#0f70bd" stroke-width="2.0" stroke-linecap="round" stroke-opacity="1.0"/>
<line x1="260.3" y1="169.9" x2="304.5" y2="213.5" stroke="#0f70bd" stroke-width="1.7" stroke-linecap="round" stroke-opacity="1.0"/>
<line x1="258.2" y1="177.7" x2="300.3" y2="218.8" stroke="#0f70bd" stroke-width="1.7" stroke-linecap="round" stroke-opacity="0.6"/>
<line x1="261.3" y1="177.7" x2="307.7" y2="224.7" stroke="#0f70bd" stroke-width="1.6" stroke-linecap="round" stroke-opacity="0.8"/>
<line x1="263" y1="180" x2="302" y2="219" stroke="#0f70bd" stroke-width="1.3" stroke-linecap="round" stroke-opacity="0.5"/>
<line x1="286.6" y1="159.8" x2="333" y2="206.1" stroke="#0f70bd" stroke-width="1.7" stroke-linecap="round" stroke-opacity="1.0"/>
<line x1="292.9" y1="157.2" x2="339.7" y2="204" stroke="#0f70bd" stroke-width="1.7" stroke-linecap="round" stroke-opacity="0.9"/>
<line x1="284.5" y1="171.3" x2="326.7" y2="213.5" stroke="#0f70bd" stroke-width="1.6" stroke-linecap="round" stroke-opacity="0.65"/>
<path d="M229.6,217.4H232.4M231,216V218.8M230.02,216.42L231.98,218.38M230.02,218.38L231.98,216.42" stroke="#a3c8e4" stroke-width="0.8" fill="none"/>
<path d="M238.6,214.9H241.4M240,213.5V216.3M239.02,213.92L240.98,215.88M239.02,215.88L240.98,213.92" stroke="#a3c8e4" stroke-width="0.8" fill="none"/>
<path d="M242.9,216.3H245.7M244.3,214.9V217.7M243.32,215.32L245.28,217.28M243.32,217.28L245.28,215.32" stroke="#a3c8e4" stroke-width="0.8" fill="none"/>
<path d="M251.3,221.6H254.1M252.7,220.2V223M251.72,220.62L253.68,222.58M251.72,222.58L253.68,220.62" stroke="#a3c8e4" stroke-width="0.8" fill="none"/>
</g>
<rect x="209.5" y="154.3" width="130.2" height="108.7" fill="none" stroke="#cbcbcb" stroke-width="0.8"/>
<line x1="219" y1="263" x2="219" y2="261.7" stroke="#cbcbcb" stroke-width="0.6" />
<line x1="219" y1="154.3" x2="219" y2="155.6" stroke="#cbcbcb" stroke-width="0.6" />
<text transform="translate(219,271.27) scale(0.9434,1)" font-size="6.68" text-anchor="middle" font-weight="normal" fill="#262626" stroke="#262626" stroke-width="0.1">1.5</text>
<line x1="249.75" y1="263" x2="249.75" y2="261.7" stroke="#cbcbcb" stroke-width="0.6" />
<line x1="249.75" y1="154.3" x2="249.75" y2="155.6" stroke="#cbcbcb" stroke-width="0.6" />
<text transform="translate(249.75,271.27) scale(0.9434,1)" font-size="6.68" text-anchor="middle" font-weight="normal" fill="#262626" stroke="#262626" stroke-width="0.1">2</text>
<line x1="280.5" y1="263" x2="280.5" y2="261.7" stroke="#cbcbcb" stroke-width="0.6" />
<line x1="280.5" y1="154.3" x2="280.5" y2="155.6" stroke="#cbcbcb" stroke-width="0.6" />
<text transform="translate(280.5,271.27) scale(0.9434,1)" font-size="6.68" text-anchor="middle" font-weight="normal" fill="#262626" stroke="#262626" stroke-width="0.1">2.5</text>
<line x1="311.25" y1="263" x2="311.25" y2="261.7" stroke="#cbcbcb" stroke-width="0.6" />
<line x1="311.25" y1="154.3" x2="311.25" y2="155.6" stroke="#cbcbcb" stroke-width="0.6" />
<text transform="translate(311.25,271.27) scale(0.9434,1)" font-size="6.68" text-anchor="middle" font-weight="normal" fill="#262626" stroke="#262626" stroke-width="0.1">3</text>
<line x1="209.5" y1="154.64" x2="210.8" y2="154.64" stroke="#cbcbcb" stroke-width="0.6" />
<line x1="339.7" y1="154.64" x2="338.4" y2="154.64" stroke="#cbcbcb" stroke-width="0.6" />
<text transform="translate(207.9,156.92) scale(0.9434,1)" font-size="6.68" text-anchor="end" font-weight="normal" fill="#262626" stroke="#262626" stroke-width="0.1">1.5</text>
<line x1="209.5" y1="170.13" x2="210.8" y2="170.13" stroke="#cbcbcb" stroke-width="0.6" />
<line x1="339.7" y1="170.13" x2="338.4" y2="170.13" stroke="#cbcbcb" stroke-width="0.6" />
<text transform="translate(207.9,172.4) scale(0.9434,1)" font-size="6.68" text-anchor="end" font-weight="normal" fill="#262626" stroke="#262626" stroke-width="0.1">1</text>
<line x1="209.5" y1="185.62" x2="210.8" y2="185.62" stroke="#cbcbcb" stroke-width="0.6" />
<line x1="339.7" y1="185.62" x2="338.4" y2="185.62" stroke="#cbcbcb" stroke-width="0.6" />
<text transform="translate(207.9,187.89) scale(0.9434,1)" font-size="6.68" text-anchor="end" font-weight="normal" fill="#262626" stroke="#262626" stroke-width="0.1">0.5</text>
<line x1="209.5" y1="201.1" x2="210.8" y2="201.1" stroke="#cbcbcb" stroke-width="0.6" />
<line x1="339.7" y1="201.1" x2="338.4" y2="201.1" stroke="#cbcbcb" stroke-width="0.6" />
<text transform="translate(207.9,203.37) scale(0.9434,1)" font-size="6.68" text-anchor="end" font-weight="normal" fill="#262626" stroke="#262626" stroke-width="0.1">0</text>
<line x1="209.5" y1="216.58" x2="210.8" y2="216.58" stroke="#cbcbcb" stroke-width="0.6" />
<line x1="339.7" y1="216.58" x2="338.4" y2="216.58" stroke="#cbcbcb" stroke-width="0.6" />
<text transform="translate(207.9,218.86) scale(0.9434,1)" font-size="6.68" text-anchor="end" font-weight="normal" fill="#262626" stroke="#262626" stroke-width="0.1">-0.5</text>
<line x1="209.5" y1="232.07" x2="210.8" y2="232.07" stroke="#cbcbcb" stroke-width="0.6" />
<line x1="339.7" y1="232.07" x2="338.4" y2="232.07" stroke="#cbcbcb" stroke-width="0.6" />
<text transform="translate(207.9,234.34) scale(0.9434,1)" font-size="6.68" text-anchor="end" font-weight="normal" fill="#262626" stroke="#262626" stroke-width="0.1">-1</text>
<line x1="209.5" y1="247.56" x2="210.8" y2="247.56" stroke="#cbcbcb" stroke-width="0.6" />
<line x1="339.7" y1="247.56" x2="338.4" y2="247.56" stroke="#cbcbcb" stroke-width="0.6" />
<text transform="translate(207.9,249.83) scale(0.9434,1)" font-size="6.68" text-anchor="end" font-weight="normal" fill="#262626" stroke="#262626" stroke-width="0.1">-1.5</text>
<line x1="209.5" y1="263.04" x2="210.8" y2="263.04" stroke="#cbcbcb" stroke-width="0.6" />
<line x1="339.7" y1="263.04" x2="338.4" y2="263.04" stroke="#cbcbcb" stroke-width="0.6" />
<text transform="translate(207.9,265.31) scale(0.9434,1)" font-size="6.68" text-anchor="end" font-weight="normal" fill="#262626" stroke="#262626" stroke-width="0.1">-2</text>
<text transform="translate(274.6,278.49) scale(0.9434,1)" font-size="6.62" text-anchor="middle" font-weight="normal" fill="#262626" stroke="#262626" stroke-width="0.1">Average of Target vs Estimation (W/kg)</text>
<text transform="translate(195.67,208.7) rotate(-90) scale(0.9434,1)" font-size="6.57" text-anchor="middle" fill="#262626" stroke="#262626" stroke-width="0.1">Target - Estimation (W/kg)</text>
<rect x="304.6" y="228.5" width="35.1" height="34.5" fill="#fff" stroke="#cbcbcb" stroke-width="0.8"/>
<path d="M308.2,232.3H310M309.1,231.4V233.2M308.47,231.67L309.73,232.93M308.47,232.93L309.73,231.67" stroke="#a3c8e4" stroke-width="0.8" fill="none"/>
<line x1="305.6" y1="239.7" x2="313.7" y2="239.7" stroke="#333" stroke-width="1.0" />
<line x1="305.6" y1="247.6" x2="313.7" y2="247.6" stroke="#ff4d4d" stroke-width="1.0" />
<line x1="305.6" y1="258" x2="313.7" y2="258" stroke="#ff7a7a" stroke-width="1.5" />
<text transform="translate(314.2,234.37) scale(0.9434,1)" font-size="6.89" text-anchor="start" font-weight="normal" fill="#262626" stroke="#262626" stroke-width="0.1">Measures</text>
<text transform="translate(314.2,241.77) scale(0.9434,1)" font-size="6.89" text-anchor="start" font-weight="normal" fill="#262626" stroke="#262626" stroke-width="0.1">Bias</text>
<text transform="translate(314.2,249.24) scale(0.9434,1)" font-size="6.89" text-anchor="start" font-weight="normal" fill="#262626" stroke="#262626" stroke-width="0.1">CI<tspan font-size="5.65" dy="2.89">95</tspan><tspan dy="-2.89"> Min</tspan></text>
<text transform="translate(314.2,259.44) scale(0.9434,1)" font-size="6.89" text-anchor="start" font-weight="normal" fill="#262626" stroke="#262626" stroke-width="0.1">CI<tspan font-size="5.65" dy="2.89">95</tspan><tspan dy="-2.89"> Max</tspan></text>
<text transform="translate(341.1,185.39) scale(0.9434,1)" font-size="7.31" text-anchor="start" font-weight="bold" fill="#111" stroke="#111" stroke-width="0.35">0.62</text>
<text transform="translate(340.4,206.89) scale(0.9434,1)" font-size="7.31" text-anchor="start" font-weight="bold" fill="#111" stroke="#111" stroke-width="0.35">−6.5×10<tspan font-size="4.2" dy="-2.5">−2</tspan></text>
<text transform="translate(340.4,228.29) scale(0.9434,1)" font-size="7.31" text-anchor="start" font-weight="bold" fill="#111" stroke="#111" stroke-width="0.35">−0.75</text>
<clipPath id="cbr"><rect x="391.6" y="155.5" width="130.4" height="108.7"/></clipPath>
<g clip-path="url(#cbr)">
<line x1="391.6" y1="190.8" x2="522" y2="190.8" stroke="#ff4d4d" stroke-width="1.0" />
<line x1="391.6" y1="210.2" x2="522" y2="210.2" stroke="#ff4d4d" stroke-width="1.0" />
<line x1="391.6" y1="200.4" x2="522" y2="200.4" stroke="#505050" stroke-width="1.0" />
<line x1="391.8" y1="206.6" x2="396" y2="210.2" stroke="#0f70bd" stroke-width="2.2" stroke-linecap="round" stroke-opacity="1.0"/>
<line x1="400" y1="199.2" x2="411.7" y2="210.1" stroke="#0f70bd" stroke-width="2.2" stroke-linecap="round" stroke-opacity="1.0"/>
<line x1="396.2" y1="203" x2="410.5" y2="216.3" stroke="#0f70bd" stroke-width="3.2" stroke-linecap="round" stroke-opacity="1.0"/>
<line x1="398" y1="200.6" x2="406" y2="208.2" stroke="#0f70bd" stroke-width="3.0" stroke-linecap="round" stroke-opacity="1.0"/>
<line x1="401.6" y1="207.6" x2="410.8" y2="217.6" stroke="#0f70bd" stroke-width="2.2" stroke-linecap="round" stroke-opacity="1.0"/>
<line x1="460" y1="192.1" x2="475.5" y2="206" stroke="#0f70bd" stroke-width="2.0" stroke-linecap="round" stroke-opacity="1.0"/>
<line x1="477.2" y1="185.5" x2="486.2" y2="194.5" stroke="#0f70bd" stroke-width="2.0" stroke-linecap="round" stroke-opacity="1.0"/>
<line x1="475.5" y1="198.6" x2="487" y2="209.3" stroke="#0f70bd" stroke-width="2.0" stroke-linecap="round" stroke-opacity="1.0"/>
<line x1="491.9" y1="183.4" x2="506.6" y2="197.8" stroke="#0f70bd" stroke-width="2.0" stroke-linecap="round" stroke-opacity="1.0"/>
<line x1="505.8" y1="189.6" x2="522" y2="204.4" stroke="#0f70bd" stroke-width="2.0" stroke-linecap="round" stroke-opacity="1.0"/>
<path d="M423.6,227H426.4M425,225.6V228.4M424.02,226.02L425.98,227.98M424.02,227.98L425.98,226.02" stroke="#a3c8e4" stroke-width="0.8" fill="none"/>
<path d="M426.7,230.1H429.5M428.1,228.7V231.5M427.12,229.12L429.08,231.08M427.12,231.08L429.08,229.12" stroke="#a3c8e4" stroke-width="0.8" fill="none"/>
<path d="M428.4,233.7H431.2M429.8,232.3V235.1M428.82,232.72L430.78,234.68M428.82,234.68L430.78,232.72" stroke="#a3c8e4" stroke-width="0.8" fill="none"/>
<path d="M431.6,234.8H434.4M433,233.4V236.2M432.02,233.82L433.98,235.78M432.02,235.78L433.98,233.82" stroke="#a3c8e4" stroke-width="0.8" fill="none"/>
<path d="M440.6,244.7H443.4M442,243.3V246.1M441.02,243.72L442.98,245.68M441.02,245.68L442.98,243.72" stroke="#a3c8e4" stroke-width="0.8" fill="none"/>
</g>
<rect x="391.6" y="155.5" width="130.4" height="108.7" fill="none" stroke="#cbcbcb" stroke-width="0.8"/>
<line x1="417.8" y1="264.2" x2="417.8" y2="262.9" stroke="#cbcbcb" stroke-width="0.6" />
<line x1="417.8" y1="155.5" x2="417.8" y2="156.8" stroke="#cbcbcb" stroke-width="0.6" />
<text transform="translate(417.8,271.67) scale(0.9434,1)" font-size="6.68" text-anchor="middle" font-weight="normal" fill="#262626" stroke="#262626" stroke-width="0.1">2</text>
<line x1="450.3" y1="264.2" x2="450.3" y2="262.9" stroke="#cbcbcb" stroke-width="0.6" />
<line x1="450.3" y1="155.5" x2="450.3" y2="156.8" stroke="#cbcbcb" stroke-width="0.6" />
<text transform="translate(450.3,271.67) scale(0.9434,1)" font-size="6.68" text-anchor="middle" font-weight="normal" fill="#262626" stroke="#262626" stroke-width="0.1">2.5</text>
<line x1="482.8" y1="264.2" x2="482.8" y2="262.9" stroke="#cbcbcb" stroke-width="0.6" />
<line x1="482.8" y1="155.5" x2="482.8" y2="156.8" stroke="#cbcbcb" stroke-width="0.6" />
<text transform="translate(482.8,271.67) scale(0.9434,1)" font-size="6.68" text-anchor="middle" font-weight="normal" fill="#262626" stroke="#262626" stroke-width="0.1">3</text>
<line x1="515.3" y1="264.2" x2="515.3" y2="262.9" stroke="#cbcbcb" stroke-width="0.6" />
<line x1="515.3" y1="155.5" x2="515.3" y2="156.8" stroke="#cbcbcb" stroke-width="0.6" />
<text transform="translate(515.3,271.67) scale(0.9434,1)" font-size="6.68" text-anchor="middle" font-weight="normal" fill="#262626" stroke="#262626" stroke-width="0.1">3.5</text>
<line x1="391.6" y1="155.7" x2="392.9" y2="155.7" stroke="#cbcbcb" stroke-width="0.6" />
<line x1="522" y1="155.7" x2="520.7" y2="155.7" stroke="#cbcbcb" stroke-width="0.6" />
<text transform="translate(390,157.97) scale(0.9434,1)" font-size="6.68" text-anchor="end" font-weight="normal" fill="#262626" stroke="#262626" stroke-width="0.1">1.5</text>
<line x1="391.6" y1="171.2" x2="392.9" y2="171.2" stroke="#cbcbcb" stroke-width="0.6" />
<line x1="522" y1="171.2" x2="520.7" y2="171.2" stroke="#cbcbcb" stroke-width="0.6" />
<text transform="translate(390,173.47) scale(0.9434,1)" font-size="6.68" text-anchor="end" font-weight="normal" fill="#262626" stroke="#262626" stroke-width="0.1">1</text>
<line x1="391.6" y1="186.7" x2="392.9" y2="186.7" stroke="#cbcbcb" stroke-width="0.6" />
<line x1="522" y1="186.7" x2="520.7" y2="186.7" stroke="#cbcbcb" stroke-width="0.6" />
<text transform="translate(390,188.97) scale(0.9434,1)" font-size="6.68" text-anchor="end" font-weight="normal" fill="#262626" stroke="#262626" stroke-width="0.1">0.5</text>
<line x1="391.6" y1="202.2" x2="392.9" y2="202.2" stroke="#cbcbcb" stroke-width="0.6" />
<line x1="522" y1="202.2" x2="520.7" y2="202.2" stroke="#cbcbcb" stroke-width="0.6" />
<text transform="translate(390,204.47) scale(0.9434,1)" font-size="6.68" text-anchor="end" font-weight="normal" fill="#262626" stroke="#262626" stroke-width="0.1">0</text>
<line x1="391.6" y1="217.7" x2="392.9" y2="217.7" stroke="#cbcbcb" stroke-width="0.6" />
<line x1="522" y1="217.7" x2="520.7" y2="217.7" stroke="#cbcbcb" stroke-width="0.6" />
<text transform="translate(390,219.97) scale(0.9434,1)" font-size="6.68" text-anchor="end" font-weight="normal" fill="#262626" stroke="#262626" stroke-width="0.1">-0.5</text>
<line x1="391.6" y1="233.2" x2="392.9" y2="233.2" stroke="#cbcbcb" stroke-width="0.6" />
<line x1="522" y1="233.2" x2="520.7" y2="233.2" stroke="#cbcbcb" stroke-width="0.6" />
<text transform="translate(390,235.47) scale(0.9434,1)" font-size="6.68" text-anchor="end" font-weight="normal" fill="#262626" stroke="#262626" stroke-width="0.1">-1</text>
<line x1="391.6" y1="248.7" x2="392.9" y2="248.7" stroke="#cbcbcb" stroke-width="0.6" />
<line x1="522" y1="248.7" x2="520.7" y2="248.7" stroke="#cbcbcb" stroke-width="0.6" />
<text transform="translate(390,250.97) scale(0.9434,1)" font-size="6.68" text-anchor="end" font-weight="normal" fill="#262626" stroke="#262626" stroke-width="0.1">-1.5</text>
<line x1="391.6" y1="264.2" x2="392.9" y2="264.2" stroke="#cbcbcb" stroke-width="0.6" />
<line x1="522" y1="264.2" x2="520.7" y2="264.2" stroke="#cbcbcb" stroke-width="0.6" />
<text transform="translate(390,266.47) scale(0.9434,1)" font-size="6.68" text-anchor="end" font-weight="normal" fill="#262626" stroke="#262626" stroke-width="0.1">-2</text>
<text transform="translate(456.8,279.49) scale(0.9434,1)" font-size="6.62" text-anchor="middle" font-weight="normal" fill="#262626" stroke="#262626" stroke-width="0.1">Average of Target vs Estimation (W/kg)</text>
<text transform="translate(378.47,209.9) rotate(-90) scale(0.9434,1)" font-size="6.57" text-anchor="middle" fill="#262626" stroke="#262626" stroke-width="0.1">Target - Estimation (W/kg)</text>
<rect x="487" y="229" width="35" height="35.2" fill="#fff" stroke="#cbcbcb" stroke-width="0.8"/>
<path d="M490.6,233.4H492.4M491.5,232.5V234.3M490.87,232.77L492.13,234.03M490.87,234.03L492.13,232.77" stroke="#a3c8e4" stroke-width="0.8" fill="none"/>
<line x1="488" y1="240.8" x2="496.5" y2="240.8" stroke="#333" stroke-width="1.0" />
<line x1="488" y1="249.1" x2="496.5" y2="249.1" stroke="#ff4d4d" stroke-width="1.0" />
<line x1="488" y1="259.1" x2="496.5" y2="259.1" stroke="#ff7a7a" stroke-width="1.5" />
<text transform="translate(497,235.47) scale(0.9434,1)" font-size="6.89" text-anchor="start" font-weight="normal" fill="#262626" stroke="#262626" stroke-width="0.1">Measures</text>
<text transform="translate(497,242.87) scale(0.9434,1)" font-size="6.89" text-anchor="start" font-weight="normal" fill="#262626" stroke="#262626" stroke-width="0.1">Bias</text>
<text transform="translate(497,250.74) scale(0.9434,1)" font-size="6.89" text-anchor="start" font-weight="normal" fill="#262626" stroke="#262626" stroke-width="0.1">CI<tspan font-size="5.65" dy="2.89">95</tspan><tspan dy="-2.89"> Min</tspan></text>
<text transform="translate(497,260.54) scale(0.9434,1)" font-size="6.89" text-anchor="start" font-weight="normal" fill="#262626" stroke="#262626" stroke-width="0.1">CI<tspan font-size="5.65" dy="2.89">95</tspan><tspan dy="-2.89"> Max</tspan></text>
<text transform="translate(523.8,193.82) scale(0.9434,1)" font-size="7.42" text-anchor="start" font-weight="bold" fill="#111" stroke="#111" stroke-width="0.35">0.38</text>
<text transform="translate(523.8,204.42) scale(0.9434,1)" font-size="7.42" text-anchor="start" font-weight="bold" fill="#111" stroke="#111" stroke-width="0.35">6.0×10<tspan font-size="4.2" dy="-2.5">−2</tspan></text>
<text transform="translate(523.8,214.22) scale(0.9434,1)" font-size="7.42" text-anchor="start" font-weight="bold" fill="#111" stroke="#111" stroke-width="0.35">−0.26</text>
<clipPath id="ccl"><rect x="37.4" y="298.3" width="130.2" height="109"/></clipPath>
<g clip-path="url(#ccl)">
<line x1="42.5" y1="390.5" x2="136" y2="297" stroke="#f68c80" stroke-width="1.2" />
<line x1="41.3" y1="384.2" x2="41.3" y2="396" stroke="#0f70bd" stroke-width="2.0" stroke-opacity="1.0"/>
<line x1="43.4" y1="391.4" x2="43.4" y2="403.7" stroke="#0f70bd" stroke-width="2.0" stroke-opacity="1.0"/>
<line x1="47.4" y1="387.8" x2="47.4" y2="403.7" stroke="#0f70bd" stroke-width="2.0" stroke-opacity="1.0"/>
<line x1="51.5" y1="377.9" x2="51.5" y2="391.4" stroke="#0f70bd" stroke-width="2.0" stroke-opacity="1.0"/>
<line x1="51.5" y1="395" x2="51.5" y2="403.7" stroke="#0f70bd" stroke-width="2.0" stroke-opacity="1.0"/>
<line x1="58.2" y1="371.6" x2="58.2" y2="391.4" stroke="#0f70bd" stroke-width="2.0" stroke-opacity="1.0"/>
<line x1="61.4" y1="364.8" x2="61.4" y2="390.5" stroke="#0f70bd" stroke-width="2.0" stroke-opacity="1.0"/>
<line x1="87" y1="342.8" x2="87" y2="355.4" stroke="#0f70bd" stroke-width="2.0" stroke-opacity="1.0"/>
<line x1="112.2" y1="335" x2="112.2" y2="349" stroke="#0f70bd" stroke-width="2.0" stroke-opacity="1.0"/>
<line x1="118.7" y1="327.5" x2="118.7" y2="348.4" stroke="#0f70bd" stroke-width="2.0" stroke-opacity="1.0"/>
<line x1="145.5" y1="310.2" x2="145.5" y2="328.4" stroke="#0f70bd" stroke-width="2.0" stroke-opacity="1.0"/>
<line x1="147.8" y1="316.2" x2="147.8" y2="325.6" stroke="#0f70bd" stroke-width="2.0" stroke-opacity="1.0"/>
<line x1="163.7" y1="302.2" x2="163.7" y2="320.3" stroke="#0f70bd" stroke-width="2.0" stroke-opacity="1.0"/>
<line x1="41.3" y1="399.5" x2="163.7" y2="305.9" stroke="#2a2a2a" stroke-width="1.0" />
<path d="M49.7,324.8H52.5M51.1,323.4V326.2M50.12,323.82L52.08,325.78M50.12,325.78L52.08,323.82" stroke="#a3c8e4" stroke-width="0.8" fill="none"/>
<path d="M59.9,324.8H62.7M61.3,323.4V326.2M60.32,323.82L62.28,325.78M60.32,325.78L62.28,323.82" stroke="#a3c8e4" stroke-width="0.8" fill="none"/>
<path d="M56.6,333.9H59.4M58,332.5V335.3M57.02,332.92L58.98,334.88M57.02,334.88L58.98,332.92" stroke="#a3c8e4" stroke-width="0.8" fill="none"/>
<path d="M46.5,352.8H49.3M47.9,351.4V354.2M46.92,351.82L48.88,353.78M46.92,353.78L48.88,351.82" stroke="#a3c8e4" stroke-width="0.8" fill="none"/>
<path d="M49.7,352.3H52.5M51.1,350.9V353.7M50.12,351.32L52.08,353.28M50.12,353.28L52.08,351.32" stroke="#a3c8e4" stroke-width="0.8" fill="none"/>
<path d="M45.2,361.7H48M46.6,360.3V363.1M45.62,360.72L47.58,362.68M45.62,362.68L47.58,360.72" stroke="#a3c8e4" stroke-width="0.8" fill="none"/>
</g>
<rect x="37.4" y="298.3" width="130.2" height="109" fill="none" stroke="#cbcbcb" stroke-width="0.8"/>
<line x1="47.9" y1="407.3" x2="47.9" y2="406" stroke="#cbcbcb" stroke-width="0.6" />
<line x1="47.9" y1="298.3" x2="47.9" y2="299.6" stroke="#cbcbcb" stroke-width="0.6" />
<text transform="translate(47.9,415.27) scale(0.9434,1)" font-size="6.68" text-anchor="middle" font-weight="normal" fill="#262626" stroke="#262626" stroke-width="0.1">2</text>
<line x1="67.6" y1="407.3" x2="67.6" y2="406" stroke="#cbcbcb" stroke-width="0.6" />
<line x1="67.6" y1="298.3" x2="67.6" y2="299.6" stroke="#cbcbcb" stroke-width="0.6" />
<text transform="translate(67.6,415.27) scale(0.9434,1)" font-size="6.68" text-anchor="middle" font-weight="normal" fill="#262626" stroke="#262626" stroke-width="0.1">2.5</text>
<line x1="87.3" y1="407.3" x2="87.3" y2="406" stroke="#cbcbcb" stroke-width="0.6" />
<line x1="87.3" y1="298.3" x2="87.3" y2="299.6" stroke="#cbcbcb" stroke-width="0.6" />
<text transform="translate(87.3,415.27) scale(0.9434,1)" font-size="6.68" text-anchor="middle" font-weight="normal" fill="#262626" stroke="#262626" stroke-width="0.1">3</text>
<line x1="107" y1="407.3" x2="107" y2="406" stroke="#cbcbcb" stroke-width="0.6" />
<line x1="107" y1="298.3" x2="107" y2="299.6" stroke="#cbcbcb" stroke-width="0.6" />
<text transform="translate(107,415.27) scale(0.9434,1)" font-size="6.68" text-anchor="middle" font-weight="normal" fill="#262626" stroke="#262626" stroke-width="0.1">3.5</text>
<line x1="126.7" y1="407.3" x2="126.7" y2="406" stroke="#cbcbcb" stroke-width="0.6" />
<line x1="126.7" y1="298.3" x2="126.7" y2="299.6" stroke="#cbcbcb" stroke-width="0.6" />
<text transform="translate(126.7,415.27) scale(0.9434,1)" font-size="6.68" text-anchor="middle" font-weight="normal" fill="#262626" stroke="#262626" stroke-width="0.1">4</text>
<line x1="146.4" y1="407.3" x2="146.4" y2="406" stroke="#cbcbcb" stroke-width="0.6" />
<line x1="146.4" y1="298.3" x2="146.4" y2="299.6" stroke="#cbcbcb" stroke-width="0.6" />
<text transform="translate(146.4,415.27) scale(0.9434,1)" font-size="6.68" text-anchor="middle" font-weight="normal" fill="#262626" stroke="#262626" stroke-width="0.1">4.5</text>
<line x1="166.1" y1="407.3" x2="166.1" y2="406" stroke="#cbcbcb" stroke-width="0.6" />
<line x1="166.1" y1="298.3" x2="166.1" y2="299.6" stroke="#cbcbcb" stroke-width="0.6" />
<text transform="translate(166.1,415.27) scale(0.9434,1)" font-size="6.68" text-anchor="middle" font-weight="normal" fill="#262626" stroke="#262626" stroke-width="0.1">5</text>
<line x1="37.4" y1="405.5" x2="38.7" y2="405.5" stroke="#cbcbcb" stroke-width="0.6" />
<line x1="167.6" y1="405.5" x2="166.3" y2="405.5" stroke="#cbcbcb" stroke-width="0.6" />
<text transform="translate(35.8,407.77) scale(0.9434,1)" font-size="6.68" text-anchor="end" font-weight="normal" fill="#262626" stroke="#262626" stroke-width="0.1">1.5</text>
<line x1="37.4" y1="385.4" x2="38.7" y2="385.4" stroke="#cbcbcb" stroke-width="0.6" />
<line x1="167.6" y1="385.4" x2="166.3" y2="385.4" stroke="#cbcbcb" stroke-width="0.6" />
<text transform="translate(35.8,387.67) scale(0.9434,1)" font-size="6.68" text-anchor="end" font-weight="normal" fill="#262626" stroke="#262626" stroke-width="0.1">2</text>
<line x1="37.4" y1="365.3" x2="38.7" y2="365.3" stroke="#cbcbcb" stroke-width="0.6" />
<line x1="167.6" y1="365.3" x2="166.3" y2="365.3" stroke="#cbcbcb" stroke-width="0.6" />
<text transform="translate(35.8,367.57) scale(0.9434,1)" font-size="6.68" text-anchor="end" font-weight="normal" fill="#262626" stroke="#262626" stroke-width="0.1">2.5</text>
<line x1="37.4" y1="345.2" x2="38.7" y2="345.2" stroke="#cbcbcb" stroke-width="0.6" />
<line x1="167.6" y1="345.2" x2="166.3" y2="345.2" stroke="#cbcbcb" stroke-width="0.6" />
<text transform="translate(35.8,347.47) scale(0.9434,1)" font-size="6.68" text-anchor="end" font-weight="normal" fill="#262626" stroke="#262626" stroke-width="0.1">3</text>
<line x1="37.4" y1="325.1" x2="38.7" y2="325.1" stroke="#cbcbcb" stroke-width="0.6" />
<line x1="167.6" y1="325.1" x2="166.3" y2="325.1" stroke="#cbcbcb" stroke-width="0.6" />
<text transform="translate(35.8,327.37) scale(0.9434,1)" font-size="6.68" text-anchor="end" font-weight="normal" fill="#262626" stroke="#262626" stroke-width="0.1">3.5</text>
<line x1="37.4" y1="305" x2="38.7" y2="305" stroke="#cbcbcb" stroke-width="0.6" />
<line x1="167.6" y1="305" x2="166.3" y2="305" stroke="#cbcbcb" stroke-width="0.6" />
<text transform="translate(35.8,307.27) scale(0.9434,1)" font-size="6.68" text-anchor="end" font-weight="normal" fill="#262626" stroke="#262626" stroke-width="0.1">4</text>
<text transform="translate(102.5,422.17) scale(0.9434,1)" font-size="6.57" text-anchor="middle" font-weight="normal" fill="#262626" stroke="#262626" stroke-width="0.1">Target Energy Expenditure (W/kg)</text>
<text transform="translate(25.76,352.5) rotate(-90) scale(0.9434,1)" font-size="6.53" text-anchor="middle" fill="#262626" stroke="#262626" stroke-width="0.1">Estimated Energy Expenditure (W/kg)</text>
<rect x="104.5" y="383.1" width="63.1" height="24.2" fill="#fff" stroke="#cbcbcb" stroke-width="0.8"/>
<path d="M108.1,387.8H109.9M109,386.9V388.7M108.37,387.17L109.63,388.43M108.37,388.43L109.63,387.17" stroke="#a3c8e4" stroke-width="0.8" fill="none"/>
<line x1="105.5" y1="396.9" x2="113.5" y2="396.9" stroke="#222" stroke-width="1.2" />
<line x1="105.5" y1="403.6" x2="113.5" y2="403.6" stroke="#ff9a9a" stroke-width="0.6" stroke-dasharray="1,0.6"/>
<text transform="translate(114,389.76) scale(0.9434,1)" font-size="6.52" text-anchor="start" font-weight="normal" fill="#262626" stroke="#262626" stroke-width="0.1">Estimation vs Target</text>
<text transform="translate(114,398.87) scale(0.9434,1)" font-size="6.57" text-anchor="start" font-weight="normal" fill="#262626" stroke="#262626" stroke-width="0.1">Best Fit with R<tspan font-size="5" dy="-3">2</tspan><tspan dy="3">:0.73</tspan></text>
<text transform="translate(114,405.56) scale(0.9434,1)" font-size="6.52" text-anchor="start" font-weight="normal" fill="#262626" stroke="#262626" stroke-width="0.1">Ideality</text>
<clipPath id="ccm"><rect x="209.5" y="298.3" width="129.9" height="108.5"/></clipPath>
<g clip-path="url(#ccm)">
<line x1="223.88" y1="396.29" x2="334.23" y2="306.52" stroke="#f5a3a0" stroke-width="1.0" />
<line x1="217.5" y1="385.4" x2="217.5" y2="400.6" stroke="#0f70bd" stroke-width="2.0" stroke-opacity="0.9"/>
<line x1="221.8" y1="376.3" x2="221.8" y2="402.2" stroke="#0f70bd" stroke-width="2.0" stroke-opacity="0.8"/>
<line x1="224.8" y1="382.3" x2="224.8" y2="401.4" stroke="#0f70bd" stroke-width="2.0" stroke-opacity="0.7"/>
<line x1="227.9" y1="383.9" x2="227.9" y2="402.9" stroke="#0f70bd" stroke-width="2.0" stroke-opacity="0.9"/>
<line x1="229.8" y1="370.9" x2="229.8" y2="402" stroke="#0f70bd" stroke-width="2.0" stroke-opacity="0.8"/>
<line x1="231.7" y1="377.8" x2="231.7" y2="402" stroke="#0f70bd" stroke-width="2.0" stroke-opacity="0.9"/>
<line x1="233.7" y1="383.1" x2="233.7" y2="401" stroke="#0f70bd" stroke-width="2.0" stroke-opacity="0.8"/>
<line x1="235.5" y1="374" x2="235.5" y2="401" stroke="#0f70bd" stroke-width="2.0" stroke-opacity="0.8"/>
<line x1="238.5" y1="370.2" x2="238.5" y2="400.6" stroke="#0f70bd" stroke-width="2.0" stroke-opacity="0.9"/>
<line x1="226" y1="390" x2="226" y2="402" stroke="#0f70bd" stroke-width="2.5" stroke-opacity="1"/>
<line x1="232" y1="388" x2="232" y2="402" stroke="#0f70bd" stroke-width="2.5" stroke-opacity="1"/>
<line x1="283.2" y1="320.3" x2="283.2" y2="382.1" stroke="#0f70bd" stroke-width="1.9" stroke-opacity="0.95"/>
<line x1="286.6" y1="310.6" x2="286.6" y2="379.2" stroke="#0f70bd" stroke-width="1.9" stroke-opacity="0.9"/>
<line x1="292.5" y1="321.5" x2="292.5" y2="386" stroke="#0f70bd" stroke-width="1.9" stroke-opacity="1"/>
<line x1="313.1" y1="304.6" x2="313.1" y2="367.1" stroke="#0f70bd" stroke-width="1.9" stroke-opacity="1"/>
<line x1="325.9" y1="305.9" x2="325.9" y2="374.3" stroke="#0f70bd" stroke-width="1.9" stroke-opacity="1"/>
<line x1="333.6" y1="302.7" x2="333.6" y2="371.6" stroke="#0f70bd" stroke-width="1.9" stroke-opacity="0.95"/>
<line x1="218" y1="406" x2="328.4" y2="298.4" stroke="#2a2a2a" stroke-width="1.0" />
<path d="M220.7,372.1H223.5M222.1,370.7V373.5M221.12,371.12L223.08,373.08M221.12,373.08L223.08,371.12" stroke="#a3c8e4" stroke-width="0.8" fill="none"/>
<path d="M231.3,367.9H234.1M232.7,366.5V369.3M231.72,366.92L233.68,368.88M231.72,368.88L233.68,366.92" stroke="#a3c8e4" stroke-width="0.8" fill="none"/>
<path d="M234.9,363.6H237.7M236.3,362.2V365M235.32,362.62L237.28,364.58M235.32,364.58L237.28,362.62" stroke="#a3c8e4" stroke-width="0.8" fill="none"/>
<path d="M237.1,353.4H239.9M238.5,352V354.8M237.52,352.42L239.48,354.38M237.52,354.38L239.48,352.42" stroke="#a3c8e4" stroke-width="0.8" fill="none"/>
<path d="M226.2,375.5H229M227.6,374.1V376.9M226.62,374.52L228.58,376.48M226.62,376.48L228.58,374.52" stroke="#a3c8e4" stroke-width="0.8" fill="none"/>
</g>
<rect x="209.5" y="298.3" width="129.9" height="108.5" fill="none" stroke="#cbcbcb" stroke-width="0.8"/>
<line x1="226.7" y1="406.8" x2="226.7" y2="405.5" stroke="#cbcbcb" stroke-width="0.6" />
<line x1="226.7" y1="298.3" x2="226.7" y2="299.6" stroke="#cbcbcb" stroke-width="0.6" />
<text transform="translate(226.7,414.57) scale(0.9434,1)" font-size="6.68" text-anchor="middle" font-weight="normal" fill="#262626" stroke="#262626" stroke-width="0.1">1.5</text>
<line x1="254.85" y1="406.8" x2="254.85" y2="405.5" stroke="#cbcbcb" stroke-width="0.6" />
<line x1="254.85" y1="298.3" x2="254.85" y2="299.6" stroke="#cbcbcb" stroke-width="0.6" />
<text transform="translate(254.85,414.57) scale(0.9434,1)" font-size="6.68" text-anchor="middle" font-weight="normal" fill="#262626" stroke="#262626" stroke-width="0.1">2</text>
<line x1="283" y1="406.8" x2="283" y2="405.5" stroke="#cbcbcb" stroke-width="0.6" />
<line x1="283" y1="298.3" x2="283" y2="299.6" stroke="#cbcbcb" stroke-width="0.6" />
<text transform="translate(283,414.57) scale(0.9434,1)" font-size="6.68" text-anchor="middle" font-weight="normal" fill="#262626" stroke="#262626" stroke-width="0.1">2.5</text>
<line x1="311.15" y1="406.8" x2="311.15" y2="405.5" stroke="#cbcbcb" stroke-width="0.6" />
<line x1="311.15" y1="298.3" x2="311.15" y2="299.6" stroke="#cbcbcb" stroke-width="0.6" />
<text transform="translate(311.15,414.57) scale(0.9434,1)" font-size="6.68" text-anchor="middle" font-weight="normal" fill="#262626" stroke="#262626" stroke-width="0.1">3</text>
<line x1="339.3" y1="406.8" x2="339.3" y2="405.5" stroke="#cbcbcb" stroke-width="0.6" />
<line x1="339.3" y1="298.3" x2="339.3" y2="299.6" stroke="#cbcbcb" stroke-width="0.6" />
<text transform="translate(339.3,414.57) scale(0.9434,1)" font-size="6.68" text-anchor="middle" font-weight="normal" fill="#262626" stroke="#262626" stroke-width="0.1">3.5</text>
<line x1="209.5" y1="394" x2="210.8" y2="394" stroke="#cbcbcb" stroke-width="0.6" />
<line x1="339.4" y1="394" x2="338.1" y2="394" stroke="#cbcbcb" stroke-width="0.6" />
<text transform="translate(207.9,396.27) scale(0.9434,1)" font-size="6.68" text-anchor="end" font-weight="normal" fill="#262626" stroke="#262626" stroke-width="0.1">1.5</text>
<line x1="209.5" y1="371.1" x2="210.8" y2="371.1" stroke="#cbcbcb" stroke-width="0.6" />
<line x1="339.4" y1="371.1" x2="338.1" y2="371.1" stroke="#cbcbcb" stroke-width="0.6" />
<text transform="translate(207.9,373.37) scale(0.9434,1)" font-size="6.68" text-anchor="end" font-weight="normal" fill="#262626" stroke="#262626" stroke-width="0.1">2</text>
<line x1="209.5" y1="348.2" x2="210.8" y2="348.2" stroke="#cbcbcb" stroke-width="0.6" />
<line x1="339.4" y1="348.2" x2="338.1" y2="348.2" stroke="#cbcbcb" stroke-width="0.6" />
<text transform="translate(207.9,350.47) scale(0.9434,1)" font-size="6.68" text-anchor="end" font-weight="normal" fill="#262626" stroke="#262626" stroke-width="0.1">2.5</text>
<line x1="209.5" y1="325.3" x2="210.8" y2="325.3" stroke="#cbcbcb" stroke-width="0.6" />
<line x1="339.4" y1="325.3" x2="338.1" y2="325.3" stroke="#cbcbcb" stroke-width="0.6" />
<text transform="translate(207.9,327.57) scale(0.9434,1)" font-size="6.68" text-anchor="end" font-weight="normal" fill="#262626" stroke="#262626" stroke-width="0.1">3</text>
<line x1="209.5" y1="302.4" x2="210.8" y2="302.4" stroke="#cbcbcb" stroke-width="0.6" />
<line x1="339.4" y1="302.4" x2="338.1" y2="302.4" stroke="#cbcbcb" stroke-width="0.6" />
<text transform="translate(207.9,304.67) scale(0.9434,1)" font-size="6.68" text-anchor="end" font-weight="normal" fill="#262626" stroke="#262626" stroke-width="0.1">3.5</text>
<text transform="translate(274.45,422.37) scale(0.9434,1)" font-size="6.57" text-anchor="middle" font-weight="normal" fill="#262626" stroke="#262626" stroke-width="0.1">Target Energy Expenditure (W/kg)</text>
<text transform="translate(197.85,352.7) rotate(-90) scale(0.9434,1)" font-size="6.5" text-anchor="middle" fill="#262626" stroke="#262626" stroke-width="0.1">Estimated Energy Expenditure (W/kg)</text>
<rect x="209.5" y="298.3" width="63.3" height="24" fill="#fff" stroke="#cbcbcb" stroke-width="0.8"/>
<path d="M213.1,302.8H214.9M214,301.9V303.7M213.37,302.17L214.63,303.43M213.37,303.43L214.63,302.17" stroke="#a3c8e4" stroke-width="0.8" fill="none"/>
<line x1="210.5" y1="311.6" x2="219" y2="311.6" stroke="#222" stroke-width="1.2" />
<line x1="210.5" y1="319.2" x2="219" y2="319.2" stroke="#ff9a9a" stroke-width="0.6" stroke-dasharray="1,0.6"/>
<text transform="translate(219.5,304.76) scale(0.9434,1)" font-size="6.52" text-anchor="start" font-weight="normal" fill="#262626" stroke="#262626" stroke-width="0.1">Estimation vs Target</text>
<text transform="translate(219.5,313.57) scale(0.9434,1)" font-size="6.57" text-anchor="start" font-weight="normal" fill="#262626" stroke="#262626" stroke-width="0.1">Best Fit with R<tspan font-size="5" dy="-3">2</tspan><tspan dy="3">:0.76</tspan></text>
<text transform="translate(219.5,321.16) scale(0.9434,1)" font-size="6.52" text-anchor="start" font-weight="normal" fill="#262626" stroke="#262626" stroke-width="0.1">Ideality</text>
<clipPath id="ccr"><rect x="391.2" y="298.1" width="130.3" height="109.2"/></clipPath>
<g clip-path="url(#ccr)">
<line x1="399.52" y1="405.06" x2="512.32" y2="315.46" stroke="#f6aaa8" stroke-width="1.0" />
<line x1="399.2" y1="393.2" x2="399.2" y2="398.6" stroke="#0f70bd" stroke-width="2.0" stroke-opacity="1.0"/>
<line x1="404.6" y1="377.9" x2="404.6" y2="398.3" stroke="#0f70bd" stroke-width="2.0" stroke-opacity="1.0"/>
<line x1="403.6" y1="388" x2="403.6" y2="398" stroke="#0f70bd" stroke-width="2.6" stroke-opacity="1"/>
<line x1="408.2" y1="379.2" x2="408.2" y2="398" stroke="#0f70bd" stroke-width="2.0" stroke-opacity="1.0"/>
<line x1="409.6" y1="389" x2="409.6" y2="398" stroke="#0f70bd" stroke-width="2.6" stroke-opacity="1"/>
<line x1="412.9" y1="383.3" x2="412.9" y2="398.6" stroke="#0f70bd" stroke-width="2.0" stroke-opacity="1.0"/>
<line x1="406.5" y1="385" x2="406.5" y2="398" stroke="#0f70bd" stroke-width="2.0" stroke-opacity="1.0"/>
<line x1="470.7" y1="341.6" x2="470.7" y2="363.8" stroke="#0f70bd" stroke-width="2.0" stroke-opacity="1.0"/>
<line x1="477.7" y1="331" x2="477.7" y2="348.2" stroke="#0f70bd" stroke-width="2.0" stroke-opacity="1.0"/>
<line x1="490.8" y1="343.3" x2="490.8" y2="356.4" stroke="#0f70bd" stroke-width="2.0" stroke-opacity="1.0"/>
<line x1="505.6" y1="326.9" x2="505.6" y2="347.4" stroke="#0f70bd" stroke-width="2.0" stroke-opacity="1.0"/>
<line x1="511.6" y1="311" x2="511.6" y2="334.3" stroke="#0f70bd" stroke-width="2.0" stroke-opacity="1.0"/>
<line x1="399.2" y1="402.3" x2="511.6" y2="325.2" stroke="#2a2a2a" stroke-width="1.15" />
<path d="M405.1,336.4H407.9M406.5,335V337.8M405.52,335.42L407.48,337.38M405.52,337.38L407.48,335.42" stroke="#a3c8e4" stroke-width="0.8" fill="none"/>
<path d="M407,349.9H409.8M408.4,348.5V351.3M407.42,348.92L409.38,350.88M407.42,350.88L409.38,348.92" stroke="#a3c8e4" stroke-width="0.8" fill="none"/>
<path d="M404.6,352.4H407.4M406,351V353.8M405.02,351.42L406.98,353.38M405.02,353.38L406.98,351.42" stroke="#a3c8e4" stroke-width="0.8" fill="none"/>
<path d="M407,356.5H409.8M408.4,355.1V357.9M407.42,355.52L409.38,357.48M407.42,357.48L409.38,355.52" stroke="#a3c8e4" stroke-width="0.8" fill="none"/>
<path d="M407.4,361.2H410.2M408.8,359.8V362.6M407.82,360.22L409.78,362.18M407.82,362.18L409.78,360.22" stroke="#a3c8e4" stroke-width="0.8" fill="none"/>
</g>
<rect x="391.2" y="298.1" width="130.3" height="109.2" fill="none" stroke="#cbcbcb" stroke-width="0.8"/>
<line x1="396.7" y1="407.3" x2="396.7" y2="406" stroke="#cbcbcb" stroke-width="0.6" />
<line x1="396.7" y1="298.1" x2="396.7" y2="299.4" stroke="#cbcbcb" stroke-width="0.6" />
<text transform="translate(396.7,414.87) scale(0.9434,1)" font-size="6.68" text-anchor="middle" font-weight="normal" fill="#262626" stroke="#262626" stroke-width="0.1">1.5</text>
<line x1="424.9" y1="407.3" x2="424.9" y2="406" stroke="#cbcbcb" stroke-width="0.6" />
<line x1="424.9" y1="298.1" x2="424.9" y2="299.4" stroke="#cbcbcb" stroke-width="0.6" />
<text transform="translate(424.9,414.87) scale(0.9434,1)" font-size="6.68" text-anchor="middle" font-weight="normal" fill="#262626" stroke="#262626" stroke-width="0.1">2</text>
<line x1="453.1" y1="407.3" x2="453.1" y2="406" stroke="#cbcbcb" stroke-width="0.6" />
<line x1="453.1" y1="298.1" x2="453.1" y2="299.4" stroke="#cbcbcb" stroke-width="0.6" />
<text transform="translate(453.1,414.87) scale(0.9434,1)" font-size="6.68" text-anchor="middle" font-weight="normal" fill="#262626" stroke="#262626" stroke-width="0.1">2.5</text>
<line x1="481.3" y1="407.3" x2="481.3" y2="406" stroke="#cbcbcb" stroke-width="0.6" />
<line x1="481.3" y1="298.1" x2="481.3" y2="299.4" stroke="#cbcbcb" stroke-width="0.6" />
<text transform="translate(481.3,414.87) scale(0.9434,1)" font-size="6.68" text-anchor="middle" font-weight="normal" fill="#262626" stroke="#262626" stroke-width="0.1">3</text>
<line x1="509.5" y1="407.3" x2="509.5" y2="406" stroke="#cbcbcb" stroke-width="0.6" />
<line x1="509.5" y1="298.1" x2="509.5" y2="299.4" stroke="#cbcbcb" stroke-width="0.6" />
<text transform="translate(509.5,414.87) scale(0.9434,1)" font-size="6.68" text-anchor="middle" font-weight="normal" fill="#262626" stroke="#262626" stroke-width="0.1">3.5</text>
<line x1="391.2" y1="407.3" x2="392.5" y2="407.3" stroke="#cbcbcb" stroke-width="0.6" />
<line x1="521.5" y1="407.3" x2="520.2" y2="407.3" stroke="#cbcbcb" stroke-width="0.6" />
<text transform="translate(389.6,409.57) scale(0.9434,1)" font-size="6.68" text-anchor="end" font-weight="normal" fill="#262626" stroke="#262626" stroke-width="0.1">1.5</text>
<line x1="391.2" y1="384.9" x2="392.5" y2="384.9" stroke="#cbcbcb" stroke-width="0.6" />
<line x1="521.5" y1="384.9" x2="520.2" y2="384.9" stroke="#cbcbcb" stroke-width="0.6" />
<text transform="translate(389.6,387.17) scale(0.9434,1)" font-size="6.68" text-anchor="end" font-weight="normal" fill="#262626" stroke="#262626" stroke-width="0.1">2</text>
<line x1="391.2" y1="362.5" x2="392.5" y2="362.5" stroke="#cbcbcb" stroke-width="0.6" />
<line x1="521.5" y1="362.5" x2="520.2" y2="362.5" stroke="#cbcbcb" stroke-width="0.6" />
<text transform="translate(389.6,364.77) scale(0.9434,1)" font-size="6.68" text-anchor="end" font-weight="normal" fill="#262626" stroke="#262626" stroke-width="0.1">2.5</text>
<line x1="391.2" y1="340.1" x2="392.5" y2="340.1" stroke="#cbcbcb" stroke-width="0.6" />
<line x1="521.5" y1="340.1" x2="520.2" y2="340.1" stroke="#cbcbcb" stroke-width="0.6" />
<text transform="translate(389.6,342.37) scale(0.9434,1)" font-size="6.68" text-anchor="end" font-weight="normal" fill="#262626" stroke="#262626" stroke-width="0.1">3</text>
<line x1="391.2" y1="317.7" x2="392.5" y2="317.7" stroke="#cbcbcb" stroke-width="0.6" />
<line x1="521.5" y1="317.7" x2="520.2" y2="317.7" stroke="#cbcbcb" stroke-width="0.6" />
<text transform="translate(389.6,319.97) scale(0.9434,1)" font-size="6.68" text-anchor="end" font-weight="normal" fill="#262626" stroke="#262626" stroke-width="0.1">3.5</text>
<text transform="translate(456.35,422.37) scale(0.9434,1)" font-size="6.57" text-anchor="middle" font-weight="normal" fill="#262626" stroke="#262626" stroke-width="0.1">Target Energy Expenditure (W/kg)</text>
<text transform="translate(379.55,352.5) rotate(-90) scale(0.9434,1)" font-size="6.51" text-anchor="middle" fill="#262626" stroke="#262626" stroke-width="0.1">Estimated Energy Expenditure (W/kg)</text>
<rect x="458" y="383.4" width="63.5" height="23.9" fill="#fff" stroke="#cbcbcb" stroke-width="0.8"/>
<path d="M461.6,387.5H463.4M462.5,386.6V388.4M461.87,386.87L463.13,388.13M461.87,388.13L463.13,386.87" stroke="#a3c8e4" stroke-width="0.8" fill="none"/>
<line x1="459" y1="396.5" x2="467.2" y2="396.5" stroke="#222" stroke-width="1.2" />
<line x1="459" y1="403.7" x2="467.2" y2="403.7" stroke="#ff9a9a" stroke-width="0.6" stroke-dasharray="1,0.6"/>
<text transform="translate(467.7,389.46) scale(0.9434,1)" font-size="6.52" text-anchor="start" font-weight="normal" fill="#262626" stroke="#262626" stroke-width="0.1">Estimation vs Target</text>
<text transform="translate(467.7,398.47) scale(0.9434,1)" font-size="6.57" text-anchor="start" font-weight="normal" fill="#262626" stroke="#262626" stroke-width="0.1">Best Fit with R<tspan font-size="5" dy="-3">2</tspan><tspan dy="3">:0.95</tspan></text>
<text transform="translate(467.7,405.66) scale(0.9434,1)" font-size="6.52" text-anchor="start" font-weight="normal" fill="#262626" stroke="#262626" stroke-width="0.1">Ideality</text>
</g></svg></body></html>
